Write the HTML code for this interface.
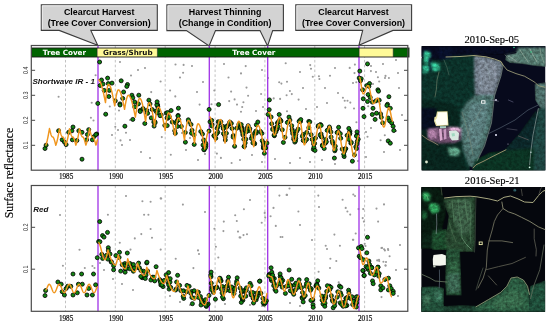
<!DOCTYPE html>
<html><head><meta charset="utf-8"><title>Surface reflectance time series</title>
<style>
html,body{margin:0;padding:0;background:#fff;}
body{width:550px;height:325px;overflow:hidden;}
svg{display:block;}
.co{font-family:"Liberation Sans",Arial,sans-serif;font-weight:bold;font-size:8.9px;fill:#000;text-anchor:middle;}
.grid{stroke:#c2c2c2;stroke-width:1.0;stroke-dasharray:2.6 2.2;}
.tick{stroke:#333;stroke-width:0.9;}
.frame{fill:none;stroke:#4a4a4a;stroke-width:1.2;}
.yt{font-family:"Liberation Sans",Arial,sans-serif;font-size:6.4px;fill:#333;text-anchor:middle;}
.xt{font-family:"Liberation Serif","Times New Roman",serif;font-size:7.2px;fill:#000;stroke:#000;stroke-width:0.15px;text-anchor:middle;}
.bw{font-family:"DejaVu Sans",Verdana,sans-serif;font-weight:bold;font-size:7.2px;fill:#fff;text-anchor:middle;}
.bk{font-family:"DejaVu Sans",Verdana,sans-serif;font-weight:bold;font-size:7.2px;fill:#111;text-anchor:middle;}
.fit{fill:none;stroke:#f0961e;stroke-width:1.45;stroke-linejoin:round;}
.gp{fill:#9a9a9a;}
.dp{fill:#118611;stroke:#050505;stroke-width:0.85;}
.brk{stroke:#a032e6;stroke-width:1.3;}
.lab{font-family:"Liberation Sans",Arial,sans-serif;font-weight:bold;font-style:italic;font-size:8.05px;fill:#111;}
.ylab{font-family:"Liberation Serif","Times New Roman",serif;font-size:11.75px;fill:#000;stroke:#000;stroke-width:0.15px;text-anchor:middle;}
.it{font-family:"Liberation Serif","Times New Roman",serif;font-size:10.6px;fill:#000;stroke:#000;stroke-width:0.12px;text-anchor:middle;}
</style></head>
<body>
<svg width="550" height="325" viewBox="0 0 550 325">
<rect width="550" height="325" fill="#fff"/>
<path d="M41.3 4.8 L157.3 4.8 L157.3 30.4 L90.8 30.4 L97.7 45.3 L59.2 30.4 L41.3 30.4 Z" fill="#d3d3d3" stroke="#3c3c3c" stroke-width="1.1" stroke-linejoin="miter"/>
<polyline points="42.3,29.4 42.3,5.8 156.3,5.8" fill="none" stroke="#f2f2f2" stroke-width="0.8"/>
<text x="99.2" y="14.9" class="co">Clearcut Harvest</text>
<text x="99.2" y="25.5" class="co">(Tree Cover Conversion)</text>
<path d="M166.9 4.8 L283.4 4.8 L283.4 30.6 L272.7 30.6 L267.6 46.0 L260.0 30.6 L215.5 30.6 L209.1 46.0 L186.4 30.6 L166.9 30.6 Z" fill="#d3d3d3" stroke="#3c3c3c" stroke-width="1.1" stroke-linejoin="miter"/>
<polyline points="167.9,29.6 167.9,5.8 282.4,5.8" fill="none" stroke="#f2f2f2" stroke-width="0.8"/>
<text x="225.1" y="14.9" class="co">Harvest Thinning</text>
<text x="225.1" y="25.5" class="co">(Change in Condition)</text>
<path d="M295.8 4.8 L411.6 4.8 L411.6 30.4 L393.0 30.4 L358.9 45.3 L362.7 30.4 L295.8 30.4 Z" fill="#d3d3d3" stroke="#3c3c3c" stroke-width="1.1" stroke-linejoin="miter"/>
<polyline points="296.8,29.4 296.8,5.8 410.6,5.8" fill="none" stroke="#f2f2f2" stroke-width="0.8"/>
<text x="353.5" y="14.9" class="co">Clearcut Harvest</text>
<text x="353.5" y="25.5" class="co">(Tree Cover Conversion)</text>
<line x1="65.5" y1="45.5" x2="65.5" y2="170.2" class="grid"/>
<line x1="115.3" y1="45.5" x2="115.3" y2="170.2" class="grid"/>
<line x1="165.2" y1="45.5" x2="165.2" y2="170.2" class="grid"/>
<line x1="215.1" y1="45.5" x2="215.1" y2="170.2" class="grid"/>
<line x1="264.9" y1="45.5" x2="264.9" y2="170.2" class="grid"/>
<line x1="314.8" y1="45.5" x2="314.8" y2="170.2" class="grid"/>
<line x1="364.6" y1="45.5" x2="364.6" y2="170.2" class="grid"/>
<line x1="31.3" y1="145.3" x2="35.1" y2="145.3" class="tick"/>
<line x1="404.0" y1="145.3" x2="407.8" y2="145.3" class="tick"/>
<line x1="31.3" y1="120.3" x2="35.1" y2="120.3" class="tick"/>
<line x1="404.0" y1="120.3" x2="407.8" y2="120.3" class="tick"/>
<line x1="31.3" y1="95.3" x2="35.1" y2="95.3" class="tick"/>
<line x1="404.0" y1="95.3" x2="407.8" y2="95.3" class="tick"/>
<line x1="31.3" y1="70.3" x2="35.1" y2="70.3" class="tick"/>
<line x1="404.0" y1="70.3" x2="407.8" y2="70.3" class="tick"/>
<circle cx="175.5" cy="64.5" r="1.05" class="gp"/>
<circle cx="183.6" cy="64.9" r="1.05" class="gp"/>
<circle cx="183.1" cy="72.7" r="1.05" class="gp"/>
<circle cx="180.0" cy="77.5" r="1.05" class="gp"/>
<circle cx="160.6" cy="81.5" r="1.05" class="gp"/>
<circle cx="151.2" cy="92.1" r="1.05" class="gp"/>
<circle cx="170.1" cy="90.5" r="1.05" class="gp"/>
<circle cx="175.3" cy="96.4" r="1.05" class="gp"/>
<circle cx="199.6" cy="104.6" r="1.05" class="gp"/>
<circle cx="245.7" cy="66.1" r="1.05" class="gp"/>
<circle cx="241.0" cy="73.4" r="1.05" class="gp"/>
<circle cx="228.5" cy="77.5" r="1.05" class="gp"/>
<circle cx="214.3" cy="90.5" r="1.05" class="gp"/>
<circle cx="231.1" cy="91.6" r="1.05" class="gp"/>
<circle cx="246.5" cy="87.6" r="1.05" class="gp"/>
<circle cx="261.1" cy="94.0" r="1.05" class="gp"/>
<circle cx="248.1" cy="95.7" r="1.05" class="gp"/>
<circle cx="229.2" cy="101.1" r="1.05" class="gp"/>
<circle cx="234.6" cy="99.4" r="1.05" class="gp"/>
<circle cx="237.0" cy="104.6" r="1.05" class="gp"/>
<circle cx="243.4" cy="102.3" r="1.05" class="gp"/>
<circle cx="242.2" cy="107.0" r="1.05" class="gp"/>
<circle cx="241.0" cy="111.7" r="1.05" class="gp"/>
<circle cx="211.5" cy="104.2" r="1.05" class="gp"/>
<circle cx="285.7" cy="63.3" r="1.05" class="gp"/>
<circle cx="310.2" cy="65.1" r="1.05" class="gp"/>
<circle cx="311.0" cy="68.8" r="1.05" class="gp"/>
<circle cx="312.8" cy="76.8" r="1.05" class="gp"/>
<circle cx="318.9" cy="76.2" r="1.05" class="gp"/>
<circle cx="319.4" cy="79.0" r="1.05" class="gp"/>
<circle cx="330.0" cy="75.8" r="1.05" class="gp"/>
<circle cx="349.7" cy="67.9" r="1.05" class="gp"/>
<circle cx="354.9" cy="64.6" r="1.05" class="gp"/>
<circle cx="354.5" cy="73.1" r="1.05" class="gp"/>
<circle cx="279.2" cy="82.3" r="1.05" class="gp"/>
<circle cx="281.4" cy="83.6" r="1.05" class="gp"/>
<circle cx="287.0" cy="81.8" r="1.05" class="gp"/>
<circle cx="289.9" cy="91.0" r="1.05" class="gp"/>
<circle cx="291.8" cy="94.1" r="1.05" class="gp"/>
<circle cx="286.6" cy="95.2" r="1.05" class="gp"/>
<circle cx="280.1" cy="98.9" r="1.05" class="gp"/>
<circle cx="273.7" cy="98.4" r="1.05" class="gp"/>
<circle cx="298.6" cy="99.6" r="1.05" class="gp"/>
<circle cx="342.9" cy="97.8" r="1.05" class="gp"/>
<circle cx="344.7" cy="100.8" r="1.05" class="gp"/>
<circle cx="347.5" cy="100.8" r="1.05" class="gp"/>
<circle cx="350.3" cy="102.6" r="1.05" class="gp"/>
<circle cx="345.3" cy="107.6" r="1.05" class="gp"/>
<circle cx="354.0" cy="108.5" r="1.05" class="gp"/>
<circle cx="353.0" cy="83.0" r="1.05" class="gp"/>
<circle cx="356.3" cy="82.3" r="1.05" class="gp"/>
<circle cx="287.0" cy="111.3" r="1.05" class="gp"/>
<circle cx="161.8" cy="137.1" r="1.05" class="gp"/>
<circle cx="170.8" cy="154.8" r="1.05" class="gp"/>
<circle cx="216.9" cy="153.6" r="1.05" class="gp"/>
<circle cx="220.9" cy="157.9" r="1.05" class="gp"/>
<circle cx="231.6" cy="163.0" r="1.05" class="gp"/>
<circle cx="58.6" cy="96.8" r="1.05" class="gp"/>
<circle cx="91.7" cy="102.7" r="1.05" class="gp"/>
<circle cx="90.9" cy="117.7" r="1.05" class="gp"/>
<circle cx="93.5" cy="120.5" r="1.05" class="gp"/>
<circle cx="95.6" cy="75.3" r="1.05" class="gp"/>
<circle cx="120.0" cy="62.0" r="1.05" class="gp"/>
<circle cx="138.0" cy="70.0" r="1.05" class="gp"/>
<circle cx="131.0" cy="75.5" r="1.05" class="gp"/>
<circle cx="145.0" cy="68.0" r="1.05" class="gp"/>
<circle cx="192.0" cy="66.0" r="1.05" class="gp"/>
<circle cx="203.0" cy="82.0" r="1.05" class="gp"/>
<circle cx="197.0" cy="92.0" r="1.05" class="gp"/>
<circle cx="224.0" cy="64.0" r="1.05" class="gp"/>
<circle cx="262.0" cy="70.0" r="1.05" class="gp"/>
<circle cx="268.0" cy="78.0" r="1.05" class="gp"/>
<circle cx="300.0" cy="72.0" r="1.05" class="gp"/>
<circle cx="303.0" cy="88.0" r="1.05" class="gp"/>
<circle cx="325.0" cy="88.0" r="1.05" class="gp"/>
<circle cx="335.0" cy="68.0" r="1.05" class="gp"/>
<circle cx="338.0" cy="93.0" r="1.05" class="gp"/>
<circle cx="327.0" cy="103.0" r="1.05" class="gp"/>
<circle cx="317.0" cy="107.0" r="1.05" class="gp"/>
<circle cx="306.0" cy="109.0" r="1.05" class="gp"/>
<circle cx="263.0" cy="107.0" r="1.05" class="gp"/>
<circle cx="256.0" cy="111.0" r="1.05" class="gp"/>
<circle cx="371.0" cy="66.0" r="1.05" class="gp"/>
<circle cx="376.0" cy="72.0" r="1.05" class="gp"/>
<circle cx="383.0" cy="64.0" r="1.05" class="gp"/>
<circle cx="385.0" cy="78.0" r="1.05" class="gp"/>
<circle cx="396.0" cy="60.0" r="1.05" class="gp"/>
<circle cx="398.0" cy="73.0" r="1.05" class="gp"/>
<circle cx="373.0" cy="84.0" r="1.05" class="gp"/>
<circle cx="370.0" cy="95.0" r="1.05" class="gp"/>
<circle cx="388.0" cy="118.0" r="1.05" class="gp"/>
<circle cx="399.0" cy="88.0" r="1.05" class="gp"/>
<circle cx="380.0" cy="104.0" r="1.05" class="gp"/>
<circle cx="402.0" cy="115.0" r="1.05" class="gp"/>
<circle cx="396.0" cy="131.0" r="1.05" class="gp"/>
<circle cx="400.0" cy="150.0" r="1.05" class="gp"/>
<circle cx="384.0" cy="152.0" r="1.05" class="gp"/>
<circle cx="366.0" cy="132.0" r="1.05" class="gp"/>
<circle cx="371.0" cy="128.0" r="1.05" class="gp"/>
<circle cx="118.0" cy="130.0" r="1.05" class="gp"/>
<circle cx="130.0" cy="140.0" r="1.05" class="gp"/>
<circle cx="141.0" cy="152.0" r="1.05" class="gp"/>
<circle cx="150.0" cy="158.0" r="1.05" class="gp"/>
<circle cx="186.0" cy="150.0" r="1.05" class="gp"/>
<circle cx="198.0" cy="160.0" r="1.05" class="gp"/>
<circle cx="205.0" cy="154.0" r="1.05" class="gp"/>
<circle cx="240.0" cy="160.0" r="1.05" class="gp"/>
<circle cx="252.0" cy="155.0" r="1.05" class="gp"/>
<circle cx="262.0" cy="162.0" r="1.05" class="gp"/>
<circle cx="275.0" cy="159.0" r="1.05" class="gp"/>
<circle cx="290.0" cy="163.0" r="1.05" class="gp"/>
<circle cx="300.0" cy="158.0" r="1.05" class="gp"/>
<circle cx="310.0" cy="162.0" r="1.05" class="gp"/>
<circle cx="322.0" cy="160.0" r="1.05" class="gp"/>
<circle cx="335.0" cy="164.0" r="1.05" class="gp"/>
<circle cx="345.0" cy="158.0" r="1.05" class="gp"/>
<circle cx="358.0" cy="161.0" r="1.05" class="gp"/>
<circle cx="366.0" cy="157.0" r="1.05" class="gp"/>
<circle cx="130.0" cy="120.0" r="1.05" class="gp"/>
<circle cx="112.0" cy="135.0" r="1.05" class="gp"/>
<circle cx="122.0" cy="145.0" r="1.05" class="gp"/>
<circle cx="182.0" cy="133.0" r="1.05" class="gp"/>
<circle cx="190.0" cy="138.0" r="1.05" class="gp"/>
<circle cx="109.8" cy="106.5" r="1.05" class="gp"/>
<circle cx="119.0" cy="110.5" r="1.05" class="gp"/>
<circle cx="115.3" cy="126.8" r="1.05" class="gp"/>
<circle cx="126.0" cy="132.7" r="1.05" class="gp"/>
<circle cx="120.5" cy="140.4" r="1.05" class="gp"/>
<circle cx="370.9" cy="71.1" r="1.05" class="gp"/>
<circle cx="377.9" cy="77.3" r="1.05" class="gp"/>
<circle cx="385.5" cy="75.9" r="1.05" class="gp"/>
<circle cx="388.9" cy="78.0" r="1.05" class="gp"/>
<circle cx="379.2" cy="81.5" r="1.05" class="gp"/>
<circle cx="368.2" cy="106.2" r="1.05" class="gp"/>
<circle cx="356.4" cy="122.2" r="1.05" class="gp"/>
<circle cx="367.5" cy="136.7" r="1.05" class="gp"/>
<circle cx="380.6" cy="140.2" r="1.05" class="gp"/>
<circle cx="384.8" cy="135.3" r="1.05" class="gp"/>
<line x1="98.0" y1="45.5" x2="98.0" y2="170.2" class="brk"/>
<line x1="209.3" y1="45.5" x2="209.3" y2="170.2" class="brk"/>
<line x1="267.7" y1="45.5" x2="267.7" y2="170.2" class="brk"/>
<line x1="359.0" y1="45.5" x2="359.0" y2="170.2" class="brk"/>
<circle cx="154.9" cy="121.8" r="2.0" class="dp"/>
<circle cx="154.1" cy="126.1" r="2.0" class="dp"/>
<circle cx="153.8" cy="122.1" r="2.0" class="dp"/>
<circle cx="155.1" cy="122.8" r="2.0" class="dp"/>
<circle cx="157.8" cy="106.9" r="2.0" class="dp"/>
<circle cx="158.2" cy="110.4" r="2.0" class="dp"/>
<circle cx="156.0" cy="111.1" r="2.0" class="dp"/>
<circle cx="157.7" cy="105.0" r="2.0" class="dp"/>
<circle cx="161.2" cy="115.1" r="2.0" class="dp"/>
<circle cx="164.8" cy="125.4" r="2.0" class="dp"/>
<circle cx="160.1" cy="115.7" r="2.0" class="dp"/>
<circle cx="157.1" cy="112.8" r="2.0" class="dp"/>
<circle cx="156.8" cy="104.8" r="2.0" class="dp"/>
<circle cx="167.7" cy="118.3" r="2.0" class="dp"/>
<circle cx="167.1" cy="117.7" r="2.0" class="dp"/>
<circle cx="167.2" cy="125.6" r="2.0" class="dp"/>
<circle cx="174.7" cy="130.8" r="2.0" class="dp"/>
<circle cx="169.4" cy="116.9" r="2.0" class="dp"/>
<circle cx="166.2" cy="113.1" r="2.0" class="dp"/>
<circle cx="167.6" cy="112.6" r="2.0" class="dp"/>
<circle cx="172.2" cy="122.0" r="2.0" class="dp"/>
<circle cx="171.1" cy="110.5" r="2.0" class="dp"/>
<circle cx="178.1" cy="115.4" r="2.0" class="dp"/>
<circle cx="175.9" cy="122.9" r="2.0" class="dp"/>
<circle cx="177.4" cy="126.4" r="2.0" class="dp"/>
<circle cx="181.3" cy="126.4" r="2.0" class="dp"/>
<circle cx="178.0" cy="116.1" r="2.0" class="dp"/>
<circle cx="175.3" cy="133.3" r="2.0" class="dp"/>
<circle cx="177.9" cy="119.8" r="2.0" class="dp"/>
<circle cx="176.9" cy="121.3" r="2.0" class="dp"/>
<circle cx="178.8" cy="119.8" r="2.0" class="dp"/>
<circle cx="188.8" cy="121.4" r="2.0" class="dp"/>
<circle cx="194.0" cy="135.0" r="2.0" class="dp"/>
<circle cx="192.0" cy="130.3" r="2.0" class="dp"/>
<circle cx="191.0" cy="124.5" r="2.0" class="dp"/>
<circle cx="185.3" cy="132.5" r="2.0" class="dp"/>
<circle cx="194.2" cy="144.4" r="2.0" class="dp"/>
<circle cx="185.4" cy="142.2" r="2.0" class="dp"/>
<circle cx="191.5" cy="133.2" r="2.0" class="dp"/>
<circle cx="188.3" cy="119.8" r="2.0" class="dp"/>
<circle cx="205.1" cy="142.3" r="2.0" class="dp"/>
<circle cx="202.5" cy="134.1" r="2.0" class="dp"/>
<circle cx="204.1" cy="145.9" r="2.0" class="dp"/>
<circle cx="203.0" cy="145.1" r="2.0" class="dp"/>
<circle cx="204.2" cy="149.8" r="2.0" class="dp"/>
<circle cx="204.1" cy="140.9" r="2.0" class="dp"/>
<circle cx="203.8" cy="149.5" r="2.0" class="dp"/>
<circle cx="203.7" cy="140.0" r="2.0" class="dp"/>
<circle cx="200.8" cy="131.5" r="2.0" class="dp"/>
<circle cx="205.9" cy="144.0" r="2.0" class="dp"/>
<circle cx="209.0" cy="131.0" r="2.0" class="dp"/>
<circle cx="205.9" cy="146.1" r="2.0" class="dp"/>
<circle cx="205.4" cy="147.9" r="2.0" class="dp"/>
<circle cx="212.0" cy="124.5" r="2.0" class="dp"/>
<circle cx="210.0" cy="121.8" r="2.0" class="dp"/>
<circle cx="211.8" cy="125.9" r="2.0" class="dp"/>
<circle cx="214.1" cy="135.6" r="2.0" class="dp"/>
<circle cx="214.0" cy="135.7" r="2.0" class="dp"/>
<circle cx="211.7" cy="120.4" r="2.0" class="dp"/>
<circle cx="223.1" cy="126.4" r="2.0" class="dp"/>
<circle cx="224.2" cy="134.6" r="2.0" class="dp"/>
<circle cx="220.9" cy="121.9" r="2.0" class="dp"/>
<circle cx="218.2" cy="121.8" r="2.0" class="dp"/>
<circle cx="223.4" cy="128.7" r="2.0" class="dp"/>
<circle cx="223.5" cy="133.5" r="2.0" class="dp"/>
<circle cx="217.8" cy="132.2" r="2.0" class="dp"/>
<circle cx="216.7" cy="133.7" r="2.0" class="dp"/>
<circle cx="217.2" cy="128.3" r="2.0" class="dp"/>
<circle cx="219.2" cy="123.0" r="2.0" class="dp"/>
<circle cx="218.2" cy="126.2" r="2.0" class="dp"/>
<circle cx="223.4" cy="128.3" r="2.0" class="dp"/>
<circle cx="215.8" cy="138.2" r="2.0" class="dp"/>
<circle cx="225.3" cy="140.0" r="2.0" class="dp"/>
<circle cx="232.1" cy="128.5" r="2.0" class="dp"/>
<circle cx="230.7" cy="123.8" r="2.0" class="dp"/>
<circle cx="225.2" cy="137.0" r="2.0" class="dp"/>
<circle cx="226.4" cy="133.3" r="2.0" class="dp"/>
<circle cx="233.3" cy="135.6" r="2.0" class="dp"/>
<circle cx="227.4" cy="125.7" r="2.0" class="dp"/>
<circle cx="231.3" cy="123.4" r="2.0" class="dp"/>
<circle cx="229.5" cy="123.1" r="2.0" class="dp"/>
<circle cx="233.1" cy="137.1" r="2.0" class="dp"/>
<circle cx="234.6" cy="146.3" r="2.0" class="dp"/>
<circle cx="229.8" cy="122.1" r="2.0" class="dp"/>
<circle cx="226.8" cy="126.7" r="2.0" class="dp"/>
<circle cx="242.1" cy="131.0" r="2.0" class="dp"/>
<circle cx="236.8" cy="128.2" r="2.0" class="dp"/>
<circle cx="241.9" cy="127.8" r="2.0" class="dp"/>
<circle cx="240.2" cy="126.6" r="2.0" class="dp"/>
<circle cx="238.9" cy="124.3" r="2.0" class="dp"/>
<circle cx="242.9" cy="134.9" r="2.0" class="dp"/>
<circle cx="244.3" cy="146.2" r="2.0" class="dp"/>
<circle cx="242.2" cy="129.6" r="2.0" class="dp"/>
<circle cx="241.2" cy="124.6" r="2.0" class="dp"/>
<circle cx="244.1" cy="146.5" r="2.0" class="dp"/>
<circle cx="243.8" cy="139.3" r="2.0" class="dp"/>
<circle cx="242.9" cy="133.3" r="2.0" class="dp"/>
<circle cx="241.5" cy="129.0" r="2.0" class="dp"/>
<circle cx="247.0" cy="128.1" r="2.0" class="dp"/>
<circle cx="251.4" cy="138.4" r="2.0" class="dp"/>
<circle cx="252.1" cy="135.9" r="2.0" class="dp"/>
<circle cx="254.7" cy="133.1" r="2.0" class="dp"/>
<circle cx="254.7" cy="143.8" r="2.0" class="dp"/>
<circle cx="248.2" cy="125.7" r="2.0" class="dp"/>
<circle cx="254.0" cy="142.7" r="2.0" class="dp"/>
<circle cx="245.8" cy="139.2" r="2.0" class="dp"/>
<circle cx="249.4" cy="130.6" r="2.0" class="dp"/>
<circle cx="249.8" cy="128.8" r="2.0" class="dp"/>
<circle cx="245.2" cy="142.9" r="2.0" class="dp"/>
<circle cx="252.9" cy="142.9" r="2.0" class="dp"/>
<circle cx="246.7" cy="131.6" r="2.0" class="dp"/>
<circle cx="256.3" cy="124.8" r="2.0" class="dp"/>
<circle cx="256.4" cy="133.0" r="2.0" class="dp"/>
<circle cx="263.3" cy="145.7" r="2.0" class="dp"/>
<circle cx="261.8" cy="133.4" r="2.0" class="dp"/>
<circle cx="264.4" cy="153.3" r="2.0" class="dp"/>
<circle cx="255.8" cy="131.2" r="2.0" class="dp"/>
<circle cx="257.8" cy="122.0" r="2.0" class="dp"/>
<circle cx="262.2" cy="140.7" r="2.0" class="dp"/>
<circle cx="263.3" cy="148.0" r="2.0" class="dp"/>
<circle cx="260.5" cy="131.5" r="2.0" class="dp"/>
<circle cx="263.4" cy="143.0" r="2.0" class="dp"/>
<circle cx="263.9" cy="147.7" r="2.0" class="dp"/>
<circle cx="264.6" cy="145.9" r="2.0" class="dp"/>
<circle cx="266.9" cy="143.1" r="2.0" class="dp"/>
<circle cx="265.2" cy="148.0" r="2.0" class="dp"/>
<circle cx="265.6" cy="147.9" r="2.0" class="dp"/>
<circle cx="274.4" cy="135.7" r="2.0" class="dp"/>
<circle cx="274.1" cy="135.1" r="2.0" class="dp"/>
<circle cx="269.2" cy="109.7" r="2.0" class="dp"/>
<circle cx="273.0" cy="128.4" r="2.0" class="dp"/>
<circle cx="268.1" cy="114.4" r="2.0" class="dp"/>
<circle cx="271.1" cy="117.0" r="2.0" class="dp"/>
<circle cx="272.7" cy="129.5" r="2.0" class="dp"/>
<circle cx="271.7" cy="123.8" r="2.0" class="dp"/>
<circle cx="281.0" cy="121.0" r="2.0" class="dp"/>
<circle cx="275.9" cy="131.8" r="2.0" class="dp"/>
<circle cx="280.0" cy="119.6" r="2.0" class="dp"/>
<circle cx="277.4" cy="123.0" r="2.0" class="dp"/>
<circle cx="279.2" cy="114.5" r="2.0" class="dp"/>
<circle cx="278.6" cy="121.6" r="2.0" class="dp"/>
<circle cx="276.5" cy="127.3" r="2.0" class="dp"/>
<circle cx="276.9" cy="129.3" r="2.0" class="dp"/>
<circle cx="280.2" cy="121.6" r="2.0" class="dp"/>
<circle cx="283.4" cy="142.4" r="2.0" class="dp"/>
<circle cx="277.2" cy="128.6" r="2.0" class="dp"/>
<circle cx="282.3" cy="129.8" r="2.0" class="dp"/>
<circle cx="278.0" cy="126.4" r="2.0" class="dp"/>
<circle cx="288.0" cy="122.2" r="2.0" class="dp"/>
<circle cx="294.8" cy="142.1" r="2.0" class="dp"/>
<circle cx="293.7" cy="139.2" r="2.0" class="dp"/>
<circle cx="292.1" cy="129.4" r="2.0" class="dp"/>
<circle cx="287.4" cy="122.5" r="2.0" class="dp"/>
<circle cx="289.0" cy="117.1" r="2.0" class="dp"/>
<circle cx="292.7" cy="133.6" r="2.0" class="dp"/>
<circle cx="291.7" cy="125.8" r="2.0" class="dp"/>
<circle cx="285.0" cy="137.3" r="2.0" class="dp"/>
<circle cx="293.9" cy="137.2" r="2.0" class="dp"/>
<circle cx="294.5" cy="139.0" r="2.0" class="dp"/>
<circle cx="292.4" cy="131.1" r="2.0" class="dp"/>
<circle cx="289.9" cy="120.1" r="2.0" class="dp"/>
<circle cx="295.5" cy="140.9" r="2.0" class="dp"/>
<circle cx="295.9" cy="134.4" r="2.0" class="dp"/>
<circle cx="299.9" cy="120.6" r="2.0" class="dp"/>
<circle cx="300.5" cy="121.5" r="2.0" class="dp"/>
<circle cx="296.8" cy="131.2" r="2.0" class="dp"/>
<circle cx="303.2" cy="134.4" r="2.0" class="dp"/>
<circle cx="295.8" cy="138.6" r="2.0" class="dp"/>
<circle cx="295.4" cy="136.6" r="2.0" class="dp"/>
<circle cx="302.4" cy="136.3" r="2.0" class="dp"/>
<circle cx="298.1" cy="129.1" r="2.0" class="dp"/>
<circle cx="299.1" cy="121.4" r="2.0" class="dp"/>
<circle cx="300.8" cy="119.6" r="2.0" class="dp"/>
<circle cx="303.2" cy="140.5" r="2.0" class="dp"/>
<circle cx="306.6" cy="139.4" r="2.0" class="dp"/>
<circle cx="308.8" cy="121.4" r="2.0" class="dp"/>
<circle cx="306.7" cy="132.4" r="2.0" class="dp"/>
<circle cx="304.9" cy="141.4" r="2.0" class="dp"/>
<circle cx="313.7" cy="144.2" r="2.0" class="dp"/>
<circle cx="313.4" cy="149.4" r="2.0" class="dp"/>
<circle cx="311.1" cy="134.7" r="2.0" class="dp"/>
<circle cx="309.8" cy="121.9" r="2.0" class="dp"/>
<circle cx="314.6" cy="143.4" r="2.0" class="dp"/>
<circle cx="313.9" cy="147.5" r="2.0" class="dp"/>
<circle cx="312.2" cy="139.4" r="2.0" class="dp"/>
<circle cx="308.8" cy="127.7" r="2.0" class="dp"/>
<circle cx="313.7" cy="142.4" r="2.0" class="dp"/>
<circle cx="322.4" cy="145.1" r="2.0" class="dp"/>
<circle cx="322.4" cy="145.8" r="2.0" class="dp"/>
<circle cx="315.5" cy="138.1" r="2.0" class="dp"/>
<circle cx="318.2" cy="126.6" r="2.0" class="dp"/>
<circle cx="318.3" cy="125.7" r="2.0" class="dp"/>
<circle cx="321.1" cy="134.0" r="2.0" class="dp"/>
<circle cx="324.2" cy="148.5" r="2.0" class="dp"/>
<circle cx="321.4" cy="136.8" r="2.0" class="dp"/>
<circle cx="320.4" cy="124.5" r="2.0" class="dp"/>
<circle cx="320.1" cy="135.1" r="2.0" class="dp"/>
<circle cx="321.2" cy="125.4" r="2.0" class="dp"/>
<circle cx="321.7" cy="136.9" r="2.0" class="dp"/>
<circle cx="315.0" cy="150.4" r="2.0" class="dp"/>
<circle cx="330.9" cy="131.9" r="2.0" class="dp"/>
<circle cx="328.7" cy="129.2" r="2.0" class="dp"/>
<circle cx="325.2" cy="143.3" r="2.0" class="dp"/>
<circle cx="325.7" cy="139.4" r="2.0" class="dp"/>
<circle cx="327.2" cy="130.4" r="2.0" class="dp"/>
<circle cx="329.8" cy="128.7" r="2.0" class="dp"/>
<circle cx="334.4" cy="158.1" r="2.0" class="dp"/>
<circle cx="331.1" cy="137.1" r="2.0" class="dp"/>
<circle cx="332.8" cy="143.2" r="2.0" class="dp"/>
<circle cx="332.3" cy="141.3" r="2.0" class="dp"/>
<circle cx="325.2" cy="143.0" r="2.0" class="dp"/>
<circle cx="329.4" cy="127.0" r="2.0" class="dp"/>
<circle cx="326.4" cy="141.8" r="2.0" class="dp"/>
<circle cx="335.3" cy="146.2" r="2.0" class="dp"/>
<circle cx="344.1" cy="156.5" r="2.0" class="dp"/>
<circle cx="340.7" cy="138.3" r="2.0" class="dp"/>
<circle cx="338.3" cy="131.7" r="2.0" class="dp"/>
<circle cx="340.3" cy="133.7" r="2.0" class="dp"/>
<circle cx="337.5" cy="132.8" r="2.0" class="dp"/>
<circle cx="334.8" cy="150.8" r="2.0" class="dp"/>
<circle cx="337.1" cy="132.5" r="2.0" class="dp"/>
<circle cx="342.2" cy="149.1" r="2.0" class="dp"/>
<circle cx="338.6" cy="127.3" r="2.0" class="dp"/>
<circle cx="335.2" cy="149.5" r="2.0" class="dp"/>
<circle cx="344.5" cy="151.3" r="2.0" class="dp"/>
<circle cx="343.7" cy="154.2" r="2.0" class="dp"/>
<circle cx="348.9" cy="139.5" r="2.0" class="dp"/>
<circle cx="347.1" cy="135.4" r="2.0" class="dp"/>
<circle cx="349.9" cy="131.2" r="2.0" class="dp"/>
<circle cx="349.3" cy="134.7" r="2.0" class="dp"/>
<circle cx="354.4" cy="154.9" r="2.0" class="dp"/>
<circle cx="345.8" cy="148.7" r="2.0" class="dp"/>
<circle cx="350.9" cy="143.2" r="2.0" class="dp"/>
<circle cx="345.2" cy="148.9" r="2.0" class="dp"/>
<circle cx="349.9" cy="133.4" r="2.0" class="dp"/>
<circle cx="351.3" cy="142.4" r="2.0" class="dp"/>
<circle cx="349.2" cy="133.0" r="2.0" class="dp"/>
<circle cx="348.8" cy="128.4" r="2.0" class="dp"/>
<circle cx="352.4" cy="161.2" r="2.0" class="dp"/>
<circle cx="357.0" cy="143.9" r="2.0" class="dp"/>
<circle cx="355.8" cy="146.8" r="2.0" class="dp"/>
<circle cx="358.2" cy="139.2" r="2.0" class="dp"/>
<circle cx="357.3" cy="141.4" r="2.0" class="dp"/>
<circle cx="356.5" cy="148.6" r="2.0" class="dp"/>
<circle cx="357.1" cy="135.3" r="2.0" class="dp"/>
<circle cx="157.1" cy="101.8" r="2.0" class="dp"/>
<circle cx="178.4" cy="108.2" r="2.0" class="dp"/>
<circle cx="209.1" cy="109.4" r="2.0" class="dp"/>
<circle cx="218.6" cy="104.6" r="2.0" class="dp"/>
<circle cx="269.4" cy="99.9" r="2.0" class="dp"/>
<circle cx="45.0" cy="148.5" r="2.0" class="dp"/>
<circle cx="46.1" cy="145.2" r="2.0" class="dp"/>
<circle cx="58.6" cy="130.8" r="2.0" class="dp"/>
<circle cx="62.2" cy="139.8" r="2.0" class="dp"/>
<circle cx="64.4" cy="142.0" r="2.0" class="dp"/>
<circle cx="66.1" cy="144.6" r="2.0" class="dp"/>
<circle cx="68.7" cy="132.3" r="2.0" class="dp"/>
<circle cx="73.0" cy="127.0" r="2.0" class="dp"/>
<circle cx="71.9" cy="130.8" r="2.0" class="dp"/>
<circle cx="72.4" cy="139.8" r="2.0" class="dp"/>
<circle cx="76.9" cy="140.5" r="2.0" class="dp"/>
<circle cx="78.8" cy="130.8" r="2.0" class="dp"/>
<circle cx="82.0" cy="132.3" r="2.0" class="dp"/>
<circle cx="82.0" cy="159.2" r="2.0" class="dp"/>
<circle cx="86.6" cy="139.8" r="2.0" class="dp"/>
<circle cx="88.7" cy="129.7" r="2.0" class="dp"/>
<circle cx="87.4" cy="134.5" r="2.0" class="dp"/>
<circle cx="92.4" cy="139.8" r="2.0" class="dp"/>
<circle cx="94.1" cy="136.6" r="2.0" class="dp"/>
<circle cx="96.7" cy="134.0" r="2.0" class="dp"/>
<circle cx="95.9" cy="134.5" r="2.0" class="dp"/>
<circle cx="99.6" cy="62.0" r="2.0" class="dp"/>
<circle cx="107.6" cy="78.1" r="2.0" class="dp"/>
<circle cx="108.3" cy="83.6" r="2.0" class="dp"/>
<circle cx="112.0" cy="83.1" r="2.0" class="dp"/>
<circle cx="100.2" cy="85.5" r="2.0" class="dp"/>
<circle cx="104.2" cy="90.4" r="2.0" class="dp"/>
<circle cx="109.4" cy="90.4" r="2.0" class="dp"/>
<circle cx="108.8" cy="96.5" r="2.0" class="dp"/>
<circle cx="115.3" cy="100.8" r="2.0" class="dp"/>
<circle cx="121.2" cy="80.8" r="2.0" class="dp"/>
<circle cx="127.5" cy="84.5" r="2.0" class="dp"/>
<circle cx="126.8" cy="86.4" r="2.0" class="dp"/>
<circle cx="123.6" cy="92.0" r="2.0" class="dp"/>
<circle cx="122.7" cy="98.4" r="2.0" class="dp"/>
<circle cx="119.9" cy="103.9" r="2.0" class="dp"/>
<circle cx="131.9" cy="95.2" r="2.0" class="dp"/>
<circle cx="132.8" cy="97.8" r="2.0" class="dp"/>
<circle cx="138.8" cy="95.2" r="2.0" class="dp"/>
<circle cx="134.7" cy="102.0" r="2.0" class="dp"/>
<circle cx="138.4" cy="103.9" r="2.0" class="dp"/>
<circle cx="148.9" cy="100.2" r="2.0" class="dp"/>
<circle cx="150.0" cy="103.9" r="2.0" class="dp"/>
<circle cx="143.0" cy="108.5" r="2.0" class="dp"/>
<circle cx="140.2" cy="110.4" r="2.0" class="dp"/>
<circle cx="146.7" cy="110.4" r="2.0" class="dp"/>
<circle cx="152.2" cy="109.5" r="2.0" class="dp"/>
<circle cx="97.8" cy="103.4" r="2.0" class="dp"/>
<circle cx="105.7" cy="114.2" r="2.0" class="dp"/>
<circle cx="124.9" cy="126.2" r="2.0" class="dp"/>
<circle cx="132.8" cy="119.4" r="2.0" class="dp"/>
<circle cx="144.8" cy="123.5" r="2.0" class="dp"/>
<circle cx="140.2" cy="111.5" r="2.0" class="dp"/>
<circle cx="134.7" cy="106.8" r="2.0" class="dp"/>
<circle cx="151.3" cy="117.9" r="2.0" class="dp"/>
<circle cx="147.6" cy="113.3" r="2.0" class="dp"/>
<circle cx="120.0" cy="105.0" r="2.0" class="dp"/>
<circle cx="101.5" cy="80.0" r="2.0" class="dp"/>
<circle cx="103.0" cy="84.0" r="2.0" class="dp"/>
<circle cx="367.5" cy="63.9" r="2.0" class="dp"/>
<circle cx="359.8" cy="71.1" r="2.0" class="dp"/>
<circle cx="359.2" cy="78.0" r="2.0" class="dp"/>
<circle cx="361.2" cy="78.7" r="2.0" class="dp"/>
<circle cx="360.5" cy="80.8" r="2.0" class="dp"/>
<circle cx="366.8" cy="85.6" r="2.0" class="dp"/>
<circle cx="369.5" cy="83.5" r="2.0" class="dp"/>
<circle cx="368.9" cy="86.3" r="2.0" class="dp"/>
<circle cx="362.6" cy="89.8" r="2.0" class="dp"/>
<circle cx="377.9" cy="89.8" r="2.0" class="dp"/>
<circle cx="378.5" cy="91.2" r="2.0" class="dp"/>
<circle cx="368.2" cy="94.6" r="2.0" class="dp"/>
<circle cx="370.2" cy="97.4" r="2.0" class="dp"/>
<circle cx="363.3" cy="98.8" r="2.0" class="dp"/>
<circle cx="388.9" cy="96.7" r="2.0" class="dp"/>
<circle cx="379.2" cy="100.2" r="2.0" class="dp"/>
<circle cx="375.8" cy="100.9" r="2.0" class="dp"/>
<circle cx="367.5" cy="101.5" r="2.0" class="dp"/>
<circle cx="387.5" cy="104.3" r="2.0" class="dp"/>
<circle cx="363.0" cy="108.3" r="2.0" class="dp"/>
<circle cx="364.0" cy="116.6" r="2.0" class="dp"/>
<circle cx="372.3" cy="102.1" r="2.0" class="dp"/>
<circle cx="373.0" cy="108.3" r="2.0" class="dp"/>
<circle cx="372.3" cy="114.5" r="2.0" class="dp"/>
<circle cx="375.1" cy="119.4" r="2.0" class="dp"/>
<circle cx="376.5" cy="113.2" r="2.0" class="dp"/>
<circle cx="380.6" cy="113.9" r="2.0" class="dp"/>
<circle cx="381.3" cy="117.3" r="2.0" class="dp"/>
<circle cx="382.7" cy="122.9" r="2.0" class="dp"/>
<circle cx="386.9" cy="105.5" r="2.0" class="dp"/>
<circle cx="390.3" cy="108.3" r="2.0" class="dp"/>
<circle cx="388.2" cy="118.0" r="2.0" class="dp"/>
<circle cx="389.6" cy="120.8" r="2.0" class="dp"/>
<circle cx="391.7" cy="122.9" r="2.0" class="dp"/>
<circle cx="393.1" cy="126.3" r="2.0" class="dp"/>
<circle cx="393.8" cy="130.5" r="2.0" class="dp"/>
<circle cx="388.2" cy="140.9" r="2.0" class="dp"/>
<circle cx="390.3" cy="143.2" r="2.0" class="dp"/>
<circle cx="357.0" cy="131.9" r="2.0" class="dp"/>
<circle cx="356.4" cy="136.0" r="2.0" class="dp"/>
<path d="M45.36 145.30 L45.49 145.30 L45.63 145.30 L45.76 145.30 L45.93 144.90 L46.10 144.45 L46.26 143.97 L46.43 143.44 L46.60 142.87 L46.77 142.26 L46.94 141.61 L47.11 140.93 L47.28 140.21 L47.44 139.45 L47.61 138.67 L47.78 137.85 L47.95 137.00 L48.12 136.13 L48.29 135.24 L48.46 134.32 L48.62 133.39 L48.79 132.45 L48.96 131.49 L49.13 130.52 L49.30 129.55 L49.47 128.57 L49.64 129.30 L49.81 130.02 L49.98 130.73 L50.16 131.43 L50.33 132.10 L50.50 132.75 L50.67 133.36 L50.85 133.94 L51.02 134.48 L51.19 134.97 L51.36 135.41 L51.54 135.81 L51.71 136.14 L51.88 136.42 L52.06 136.64 L52.23 136.80 L52.40 136.89 L52.57 136.93 L52.74 136.95 L52.91 137.04 L53.08 137.18 L53.25 137.38 L53.42 137.63 L53.59 137.93 L53.75 138.28 L53.92 138.68 L54.09 139.13 L54.26 139.61 L54.43 140.14 L54.60 140.70 L54.77 141.29 L54.94 141.91 L55.10 142.55 L55.27 143.21 L55.44 143.88 L55.61 144.56 L55.78 145.25 L55.95 144.85 L56.12 144.41 L56.28 143.93 L56.45 143.40 L56.62 142.84 L56.79 142.23 L56.96 141.59 L57.13 140.91 L57.30 140.19 L57.46 139.44 L57.63 138.66 L57.80 137.84 L57.97 137.00 L58.14 136.14 L58.31 135.25 L58.48 134.34 L58.64 133.41 L58.81 132.47 L58.98 131.52 L59.15 130.56 L59.32 129.59 L59.49 128.62 L59.66 129.34 L59.83 130.06 L60.00 130.77 L60.18 131.46 L60.35 132.13 L60.52 132.77 L60.69 133.38 L60.87 133.96 L61.04 134.49 L61.21 134.98 L61.38 135.42 L61.56 135.81 L61.73 136.15 L61.90 136.42 L62.08 136.64 L62.25 136.80 L62.42 136.89 L62.59 136.93 L62.76 136.95 L62.93 137.04 L63.10 137.18 L63.27 137.37 L63.44 137.62 L63.61 137.92 L63.77 138.27 L63.94 138.67 L64.11 139.11 L64.28 139.60 L64.45 140.12 L64.62 140.68 L64.79 141.26 L64.96 141.88 L65.12 142.52 L65.29 143.17 L65.46 143.84 L65.63 144.52 L65.80 145.20 L65.97 144.81 L66.14 144.37 L66.30 143.89 L66.47 143.37 L66.64 142.80 L66.81 142.20 L66.98 141.56 L67.15 140.88 L67.32 140.17 L67.48 139.42 L67.65 138.65 L67.82 137.84 L67.99 137.00 L68.16 136.14 L68.33 135.26 L68.50 134.35 L68.66 133.43 L68.83 132.50 L69.00 131.55 L69.17 130.59 L69.34 129.63 L69.51 128.66 L69.68 129.38 L69.85 130.10 L70.02 130.80 L70.20 131.49 L70.37 132.15 L70.54 132.79 L70.71 133.40 L70.89 133.97 L71.06 134.51 L71.23 134.99 L71.40 135.43 L71.58 135.82 L71.75 136.15 L71.92 136.43 L72.09 136.64 L72.27 136.80 L72.44 136.89 L72.61 136.93 L72.78 136.95 L72.95 137.04 L73.12 137.18 L73.29 137.37 L73.46 137.62 L73.63 137.92 L73.79 138.27 L73.96 138.66 L74.13 139.10 L74.30 139.58 L74.47 140.10 L74.64 140.65 L74.81 141.24 L74.98 141.85 L75.14 142.48 L75.31 143.14 L75.48 143.80 L75.65 144.48 L75.82 145.16 L75.99 144.76 L76.16 144.33 L76.32 143.85 L76.49 143.33 L76.66 142.77 L76.83 142.17 L77.00 141.53 L77.17 140.86 L77.34 140.15 L77.50 139.41 L77.67 138.64 L77.84 137.83 L78.01 137.00 L78.18 136.15 L78.35 135.27 L78.52 134.37 L78.68 133.45 L78.85 132.52 L79.02 131.58 L79.19 130.63 L79.36 129.67 L79.53 128.71 L79.70 129.43 L79.87 130.14 L80.04 130.84 L80.22 131.52 L80.39 132.18 L80.56 132.82 L80.73 133.42 L80.91 133.99 L81.08 134.52 L81.25 135.00 L81.42 135.44 L81.60 135.82 L81.77 136.16 L81.94 136.43 L82.11 136.65 L82.29 136.80 L82.46 136.89 L82.63 136.93 L82.80 136.95 L82.97 137.04 L83.14 137.18 L83.31 137.37 L83.48 137.61 L83.64 137.91 L83.81 138.26 L83.98 138.65 L84.15 139.09 L84.32 139.57 L84.49 140.08 L84.66 140.63 L84.83 141.21 L85.00 141.82 L85.16 142.45 L85.33 143.10 L85.50 143.76 L85.67 144.43 L85.84 145.11 L86.01 144.72 L86.18 144.28 L86.34 143.81 L86.51 143.29 L86.68 142.74 L86.85 142.14 L87.02 141.51 L87.19 140.84 L87.36 140.13 L87.52 139.40 L87.69 138.63 L87.86 137.83 L88.03 137.00 L88.20 136.15 L88.37 135.28 L88.54 134.38 L88.70 133.47 L88.87 132.55 L89.04 131.61 L89.21 130.66 L89.38 129.71 L89.55 128.76 L89.72 129.47 L89.89 130.18 L90.06 130.87 L90.24 131.55 L90.41 132.21 L90.58 132.84 L90.75 133.44 L90.93 134.01 L91.10 134.53 L91.27 135.01 L91.44 135.45 L91.62 135.83 L91.79 136.16 L91.96 136.43 L92.13 136.65 L92.31 136.80 L92.48 136.89 L92.65 136.93 L92.82 136.95 L92.99 137.04 L93.16 137.17 L93.33 137.37 L93.50 137.61 L93.66 137.91 L93.83 138.25 L94.00 138.64 L94.17 139.08 L94.34 139.55 L94.51 140.06 L94.68 140.61 L94.85 141.19 L95.01 141.79 L95.18 142.42 L95.35 143.06 L95.52 143.72 L95.69 144.39 L95.86 145.06 L96.04 144.95 L96.21 144.60 L96.39 144.07 L96.57 143.38 L96.74 142.59 L96.92 141.77 L97.10 140.98 L97.27 140.29 L97.45 139.76 L97.63 139.42 L97.80 139.30 M98.20 79.80 L98.37 79.82 L98.54 79.86 L98.71 79.94 L98.88 80.04 L99.05 80.18 L99.22 80.35 L99.39 80.54 L99.56 80.77 L99.72 81.02 L99.89 81.30 L100.06 81.61 L100.23 81.95 L100.40 82.32 L100.57 82.72 L100.74 83.14 L100.91 83.58 L101.08 84.05 L101.25 84.55 L101.42 85.07 L101.59 85.62 L101.76 86.18 L101.93 86.77 L102.09 87.38 L102.26 88.01 L102.43 88.66 L102.60 89.33 L102.77 90.01 L102.94 90.72 L103.11 91.43 L103.28 92.17 L103.45 92.91 L103.62 93.67 L103.79 94.45 L103.96 95.23 L104.13 96.02 L104.29 96.82 L104.46 97.63 L104.63 98.45 L104.80 99.27 L104.97 100.09 L105.14 100.92 L105.31 101.75 L105.48 102.58 L105.66 100.90 L105.83 99.24 L106.01 97.60 L106.18 96.00 L106.36 94.46 L106.54 92.99 L106.71 91.60 L106.89 90.30 L107.06 89.11 L107.24 88.04 L107.42 87.09 L107.59 86.27 L107.77 85.59 L107.94 85.05 L108.12 84.67 L108.29 84.43 L108.47 84.35 L108.64 84.37 L108.80 84.43 L108.97 84.53 L109.14 84.66 L109.31 84.84 L109.47 85.05 L109.64 85.30 L109.81 85.58 L109.97 85.90 L110.14 86.26 L110.31 86.65 L110.48 87.08 L110.64 87.54 L110.81 88.03 L110.98 88.56 L111.14 89.12 L111.31 89.70 L111.48 90.32 L111.64 90.96 L111.81 91.63 L111.98 92.33 L112.15 93.05 L112.31 93.79 L112.48 94.56 L112.65 95.34 L112.81 96.15 L112.98 96.97 L113.15 97.80 L113.32 98.66 L113.48 99.52 L113.65 100.40 L113.82 101.28 L113.98 102.18 L114.15 103.08 L114.32 103.98 L114.49 104.89 L114.65 105.80 L114.82 104.66 L115.00 103.53 L115.17 102.41 L115.34 101.31 L115.51 100.23 L115.69 99.18 L115.86 98.16 L116.03 97.18 L116.20 96.24 L116.37 95.36 L116.55 94.53 L116.72 93.75 L116.89 93.04 L117.06 92.39 L117.24 91.81 L117.41 91.30 L117.58 90.86 L117.75 90.50 L117.92 90.22 L118.10 90.02 L118.27 89.90 L118.44 89.85 L118.61 89.87 L118.78 89.93 L118.95 90.02 L119.12 90.15 L119.29 90.32 L119.45 90.52 L119.62 90.75 L119.79 91.03 L119.96 91.34 L120.13 91.68 L120.30 92.05 L120.47 92.46 L120.64 92.90 L120.81 93.37 L120.97 93.87 L121.14 94.40 L121.31 94.96 L121.48 95.55 L121.65 96.16 L121.82 96.80 L121.99 97.46 L122.16 98.15 L122.33 98.85 L122.50 99.58 L122.66 100.32 L122.83 101.08 L123.00 101.86 L123.17 102.65 L123.34 103.45 L123.51 104.27 L123.68 105.09 L123.85 105.92 L124.02 106.76 L124.18 107.61 L124.35 108.45 L124.52 109.30 L124.69 108.30 L124.87 107.31 L125.04 106.32 L125.21 105.36 L125.38 104.41 L125.56 103.48 L125.73 102.59 L125.90 101.73 L126.07 100.91 L126.24 100.13 L126.42 99.40 L126.59 98.72 L126.76 98.09 L126.93 97.52 L127.11 97.01 L127.28 96.57 L127.45 96.18 L127.62 95.87 L127.79 95.62 L127.97 95.44 L128.14 95.34 L128.31 95.30 L128.48 95.32 L128.65 95.36 L128.82 95.44 L128.99 95.54 L129.15 95.68 L129.32 95.85 L129.49 96.04 L129.66 96.27 L129.83 96.52 L130.00 96.81 L130.16 97.12 L130.33 97.46 L130.50 97.83 L130.67 98.22 L130.84 98.64 L131.01 99.09 L131.18 99.56 L131.34 100.05 L131.51 100.57 L131.68 101.12 L131.85 101.68 L132.02 102.27 L132.19 102.88 L132.36 103.51 L132.52 104.15 L132.69 104.82 L132.86 105.50 L133.03 106.20 L133.20 106.91 L133.37 107.64 L133.54 108.38 L133.70 109.13 L133.87 109.89 L134.04 110.67 L134.21 111.45 L134.38 112.24 L134.55 113.04 L134.72 113.84 L134.88 114.65 L135.05 115.46 L135.22 116.28 L135.39 117.09 L135.56 115.96 L135.73 114.84 L135.90 113.73 L136.06 112.62 L136.23 111.54 L136.40 110.47 L136.57 109.43 L136.74 108.41 L136.91 107.43 L137.08 106.48 L137.25 105.57 L137.41 104.71 L137.58 103.89 L137.75 103.11 L137.92 102.39 L138.09 101.72 L138.26 101.11 L138.43 100.55 L138.60 100.06 L138.76 99.63 L138.93 99.26 L139.10 98.96 L139.27 98.72 L139.44 98.55 L139.61 98.45 L139.78 98.41 L139.95 98.44 L140.12 98.51 L140.29 98.64 L140.46 98.81 L140.63 99.03 L140.80 99.29 L140.97 99.61 L141.14 99.97 L141.31 100.38 L141.48 100.83 L141.65 101.33 L141.82 101.87 L141.99 102.45 L142.16 103.07 L142.33 103.73 L142.50 104.43 L142.67 105.16 L142.84 105.93 L143.01 106.74 L143.18 107.57 L143.35 108.44 L143.52 109.33 L143.69 110.24 L143.86 111.19 L144.03 112.15 L144.20 113.13 L144.37 114.13 L144.54 115.15 L144.71 116.18 L144.88 117.22 L145.05 118.27 L145.22 119.33 L145.39 120.39 L145.56 121.46 L145.73 120.13 L145.89 118.80 L146.06 117.49 L146.23 116.20 L146.40 114.94 L146.57 113.71 L146.73 112.52 L146.90 111.37 L147.07 110.28 L147.24 109.24 L147.40 108.26 L147.57 107.36 L147.74 106.52 L147.91 105.76 L148.07 105.08 L148.24 104.49 L148.41 103.98 L148.58 103.56 L148.74 103.23 L148.91 102.99 L149.08 102.85 L149.25 102.80 L149.42 102.83 L149.59 102.92 L149.76 103.07 L149.93 103.28 L150.10 103.55 L150.27 103.87 L150.44 104.26 L150.61 104.69 L150.78 105.19 L150.95 105.74 L151.12 106.34 L151.29 106.99 L151.46 107.69 L151.63 108.44 L151.80 109.24 L151.98 110.07 L152.15 110.95 L152.32 111.87 L152.49 112.82 L152.66 113.81 L152.83 114.83 L153.00 115.88 L153.17 116.96 L153.34 118.06 L153.51 119.18 L153.68 120.32 L153.85 121.48 L154.02 122.64 L154.19 123.82 L154.36 125.00 L154.53 126.18 L154.70 124.82 L154.87 123.46 L155.04 122.12 L155.20 120.79 L155.37 119.50 L155.54 118.23 L155.71 117.01 L155.87 115.84 L156.04 114.72 L156.21 113.65 L156.38 112.65 L156.54 111.72 L156.71 110.87 L156.88 110.09 L157.05 109.39 L157.21 108.78 L157.38 108.26 L157.55 107.83 L157.72 107.49 L157.89 107.24 L158.05 107.10 L158.22 107.05 L158.39 107.07 L158.55 107.12 L158.72 107.20 L158.89 107.31 L159.05 107.46 L159.22 107.64 L159.38 107.85 L159.55 108.09 L159.72 108.37 L159.88 108.67 L160.05 109.01 L160.22 109.38 L160.38 109.77 L160.55 110.20 L160.71 110.65 L160.88 111.13 L161.05 111.64 L161.21 112.18 L161.38 112.74 L161.54 113.32 L161.71 113.93 L161.88 114.57 L162.04 115.22 L162.21 115.90 L162.38 116.60 L162.54 117.31 L162.71 118.05 L162.87 118.80 L163.04 119.57 L163.21 120.35 L163.37 121.15 L163.54 121.96 L163.70 122.79 L163.87 123.62 L164.04 124.47 L164.20 125.32 L164.37 126.18 L164.54 127.05 L164.70 127.92 L164.87 128.79 L165.03 129.67 L165.20 130.55 L165.37 129.17 L165.54 127.80 L165.71 126.45 L165.88 125.13 L166.05 123.83 L166.22 122.58 L166.39 121.38 L166.56 120.23 L166.73 119.15 L166.89 118.14 L167.06 117.20 L167.23 116.35 L167.40 115.59 L167.57 114.91 L167.74 114.34 L167.91 113.86 L168.08 113.48 L168.25 113.22 L168.42 113.05 L168.59 113.00 L168.76 113.02 L168.93 113.08 L169.10 113.18 L169.27 113.33 L169.44 113.51 L169.61 113.73 L169.78 113.99 L169.95 114.29 L170.12 114.63 L170.29 115.01 L170.46 115.42 L170.63 115.88 L170.80 116.36 L170.97 116.88 L171.14 117.44 L171.31 118.03 L171.48 118.65 L171.65 119.30 L171.82 119.98 L171.98 120.68 L172.15 121.42 L172.32 122.18 L172.49 122.96 L172.66 123.77 L172.83 124.60 L173.00 125.45 L173.17 126.32 L173.34 127.20 L173.51 128.10 L173.68 129.01 L173.85 129.94 L174.02 130.87 L174.19 131.82 L174.36 132.77 L174.53 133.72 L174.70 134.68 L174.87 135.64 L175.04 134.31 L175.21 132.99 L175.38 131.69 L175.55 130.41 L175.73 129.15 L175.90 127.93 L176.07 126.76 L176.24 125.63 L176.41 124.56 L176.58 123.56 L176.75 122.62 L176.92 121.75 L177.09 120.96 L177.26 120.26 L177.43 119.63 L177.61 119.10 L177.78 118.66 L177.95 118.32 L178.12 118.07 L178.29 117.92 L178.46 117.87 L178.63 117.90 L178.79 117.96 L178.96 118.06 L179.12 118.21 L179.29 118.40 L179.46 118.63 L179.62 118.89 L179.79 119.20 L179.96 119.55 L180.12 119.94 L180.29 120.36 L180.45 120.83 L180.62 121.32 L180.79 121.86 L180.95 122.43 L181.12 123.03 L181.28 123.66 L181.45 124.33 L181.62 125.02 L181.78 125.74 L181.95 126.49 L182.12 127.27 L182.28 128.06 L182.45 128.89 L182.61 129.73 L182.78 130.59 L182.95 131.47 L183.11 132.37 L183.28 133.28 L183.45 134.20 L183.61 135.13 L183.78 136.07 L183.94 137.02 L184.11 137.98 L184.28 138.94 L184.44 139.90 L184.62 138.57 L184.79 137.24 L184.96 135.93 L185.14 134.64 L185.31 133.37 L185.48 132.13 L185.66 130.93 L185.83 129.77 L186.00 128.66 L186.18 127.60 L186.35 126.59 L186.52 125.65 L186.70 124.78 L186.87 123.97 L187.04 123.24 L187.22 122.59 L187.39 122.02 L187.56 121.53 L187.74 121.13 L187.91 120.81 L188.08 120.59 L188.26 120.45 L188.43 120.40 L188.60 120.43 L188.77 120.49 L188.94 120.60 L189.11 120.75 L189.27 120.95 L189.44 121.18 L189.61 121.46 L189.78 121.78 L189.95 122.15 L190.12 122.55 L190.29 122.99 L190.46 123.47 L190.63 123.99 L190.80 124.54 L190.96 125.13 L191.13 125.76 L191.30 126.41 L191.47 127.10 L191.64 127.83 L191.81 128.58 L191.98 129.35 L192.15 130.16 L192.32 130.99 L192.48 131.84 L192.65 132.72 L192.82 133.61 L192.99 134.53 L193.16 135.46 L193.33 136.40 L193.50 137.36 L193.67 138.33 L193.84 139.31 L194.00 140.29 L194.17 141.29 L194.34 142.28 L194.51 143.28 L194.68 141.82 L194.85 140.38 L195.02 138.94 L195.20 137.54 L195.37 136.16 L195.54 134.83 L195.71 133.54 L195.88 132.31 L196.05 131.13 L196.22 130.03 L196.39 129.00 L196.56 128.05 L196.73 127.18 L196.90 126.41 L197.08 125.73 L197.25 125.15 L197.42 124.67 L197.59 124.29 L197.76 124.02 L197.93 123.85 L198.10 123.80 L198.27 123.82 L198.44 123.88 L198.61 123.98 L198.78 124.13 L198.94 124.31 L199.11 124.53 L199.28 124.80 L199.45 125.10 L199.62 125.44 L199.79 125.82 L199.96 126.24 L200.13 126.69 L200.29 127.18 L200.46 127.71 L200.63 128.27 L200.80 128.86 L200.97 129.49 L201.14 130.15 L201.31 130.84 L201.48 131.56 L201.64 132.31 L201.81 133.08 L201.98 133.88 L202.15 134.71 L202.32 135.55 L202.49 136.43 L202.66 137.32 L202.83 138.23 L202.99 139.15 L203.16 140.10 L203.33 141.05 L203.50 142.03 L203.67 143.01 L203.84 144.00 L204.01 145.00 L204.18 146.01 L204.34 147.02 L204.51 148.03 L204.68 149.05 L204.85 147.93 L205.02 146.82 L205.19 145.72 L205.36 144.62 L205.52 143.55 L205.69 142.49 L205.86 141.46 L206.03 140.45 L206.20 139.48 L206.37 138.54 L206.54 137.64 L206.71 136.78 L206.87 135.97 L207.04 135.20 L207.21 134.49 L207.38 133.82 L207.55 133.22 L207.72 132.67 L207.89 132.18 L208.06 131.75 L208.22 131.39 L208.39 131.09 L208.56 130.85 L208.73 130.68 L208.90 130.58 L209.07 130.55 M209.47 116.80 L209.64 116.83 L209.81 116.91 L209.98 117.04 L210.15 117.22 L210.32 117.46 L210.49 117.75 L210.66 118.08 L210.83 118.47 L211.00 118.91 L211.17 119.40 L211.34 119.93 L211.51 120.51 L211.68 121.14 L211.85 121.81 L212.02 122.52 L212.19 123.27 L212.36 124.06 L212.53 124.89 L212.70 125.75 L212.87 126.65 L213.04 127.58 L213.21 128.54 L213.38 129.52 L213.55 130.53 L213.72 131.57 L213.89 132.63 L214.06 133.71 L214.23 134.80 L214.40 135.91 L214.57 137.03 L214.74 138.16 L214.91 139.29 L215.08 140.44 L215.25 141.58 L215.42 140.43 L215.58 139.28 L215.75 138.14 L215.91 137.00 L216.08 135.88 L216.25 134.78 L216.41 133.69 L216.58 132.63 L216.74 131.59 L216.91 130.57 L217.08 129.59 L217.24 128.64 L217.41 127.73 L217.58 126.85 L217.74 126.01 L217.91 125.22 L218.07 124.47 L218.24 123.77 L218.41 123.12 L218.57 122.52 L218.74 121.97 L218.91 121.47 L219.07 121.03 L219.24 120.64 L219.40 120.32 L219.57 120.05 L219.74 119.84 L219.90 119.69 L220.07 119.60 L220.23 119.57 L220.41 119.60 L220.58 119.71 L220.75 119.90 L220.92 120.15 L221.09 120.48 L221.26 120.88 L221.43 121.35 L221.60 121.89 L221.77 122.50 L221.94 123.17 L222.11 123.90 L222.29 124.69 L222.46 125.54 L222.63 126.44 L222.80 127.40 L222.97 128.41 L223.14 129.46 L223.31 130.56 L223.48 131.69 L223.65 132.86 L223.82 134.06 L223.99 135.29 L224.17 136.55 L224.34 137.82 L224.51 139.12 L224.68 140.42 L224.85 141.73 L225.02 143.05 L225.19 141.73 L225.35 140.41 L225.52 139.10 L225.68 137.80 L225.85 136.53 L226.02 135.27 L226.18 134.04 L226.35 132.84 L226.52 131.68 L226.68 130.55 L226.85 129.46 L227.01 128.43 L227.18 127.44 L227.35 126.50 L227.51 125.62 L227.68 124.80 L227.84 124.04 L228.01 123.35 L228.18 122.72 L228.34 122.16 L228.51 121.67 L228.68 121.26 L228.84 120.91 L229.01 120.65 L229.17 120.45 L229.34 120.34 L229.51 120.30 L229.68 120.33 L229.85 120.44 L230.01 120.61 L230.18 120.85 L230.35 121.17 L230.52 121.54 L230.69 121.99 L230.86 122.50 L231.03 123.07 L231.20 123.70 L231.37 124.40 L231.54 125.15 L231.71 125.96 L231.88 126.82 L232.05 127.74 L232.22 128.70 L232.39 129.71 L232.56 130.77 L232.73 131.86 L232.90 133.00 L233.07 134.16 L233.24 135.36 L233.40 136.59 L233.57 137.84 L233.74 139.12 L233.91 140.41 L234.08 141.72 L234.25 143.04 L234.42 144.36 L234.59 145.69 L234.76 144.16 L234.93 142.63 L235.09 141.12 L235.26 139.62 L235.43 138.15 L235.60 136.70 L235.76 135.30 L235.93 133.93 L236.10 132.61 L236.27 131.34 L236.43 130.13 L236.60 128.98 L236.77 127.90 L236.94 126.88 L237.10 125.94 L237.27 125.08 L237.44 124.30 L237.61 123.60 L237.77 122.99 L237.94 122.47 L238.11 122.05 L238.28 121.71 L238.44 121.47 L238.61 121.33 L238.78 121.28 L238.95 121.31 L239.12 121.39 L239.29 121.53 L239.46 121.72 L239.63 121.97 L239.80 122.28 L239.98 122.63 L240.15 123.05 L240.32 123.51 L240.49 124.02 L240.66 124.59 L240.83 125.20 L241.00 125.86 L241.17 126.57 L241.34 127.32 L241.51 128.12 L241.68 128.96 L241.86 129.84 L242.03 130.76 L242.20 131.71 L242.37 132.70 L242.54 133.72 L242.71 134.77 L242.88 135.86 L243.05 136.96 L243.22 138.10 L243.39 139.25 L243.56 140.42 L243.74 141.61 L243.91 142.82 L244.08 144.04 L244.25 145.27 L244.42 146.50 L244.59 147.74 L244.76 148.99 L244.93 146.97 L245.10 144.96 L245.26 142.99 L245.43 141.05 L245.60 139.17 L245.77 137.36 L245.94 135.62 L246.10 133.98 L246.27 132.44 L246.44 131.01 L246.61 129.70 L246.78 128.53 L246.94 127.50 L247.11 126.61 L247.28 125.87 L247.45 125.30 L247.62 124.88 L247.78 124.63 L247.95 124.55 L248.12 124.57 L248.29 124.64 L248.46 124.76 L248.63 124.93 L248.80 125.14 L248.97 125.40 L249.14 125.70 L249.31 126.05 L249.48 126.44 L249.65 126.87 L249.82 127.35 L249.99 127.87 L250.16 128.43 L250.33 129.03 L250.50 129.66 L250.67 130.33 L250.84 131.04 L251.01 131.78 L251.18 132.55 L251.35 133.35 L251.52 134.19 L251.69 135.04 L251.86 135.93 L252.03 136.83 L252.20 137.76 L252.37 138.70 L252.54 139.67 L252.71 140.64 L252.88 141.63 L253.05 142.64 L253.22 143.65 L253.39 144.66 L253.56 145.68 L253.73 146.71 L253.90 145.36 L254.07 144.02 L254.24 142.70 L254.40 141.38 L254.57 140.09 L254.74 138.83 L254.91 137.59 L255.07 136.39 L255.24 135.24 L255.41 134.12 L255.58 133.06 L255.74 132.05 L255.91 131.10 L256.08 130.21 L256.25 129.39 L256.41 128.63 L256.58 127.95 L256.75 127.34 L256.92 126.80 L257.08 126.35 L257.25 125.97 L257.42 125.68 L257.59 125.47 L257.75 125.34 L257.92 125.30 L258.09 125.32 L258.25 125.39 L258.42 125.50 L258.59 125.65 L258.75 125.85 L258.92 126.08 L259.08 126.37 L259.25 126.69 L259.42 127.05 L259.58 127.46 L259.75 127.91 L259.92 128.39 L260.08 128.92 L260.25 129.48 L260.41 130.08 L260.58 130.72 L260.75 131.39 L260.91 132.09 L261.08 132.83 L261.24 133.60 L261.41 134.40 L261.58 135.22 L261.74 136.08 L261.91 136.96 L262.08 137.87 L262.24 138.80 L262.41 139.75 L262.57 140.73 L262.74 141.72 L262.91 142.73 L263.07 143.75 L263.24 144.79 L263.40 145.84 L263.57 146.90 L263.74 147.97 L263.90 149.05 L264.07 150.13 L264.24 151.21 L264.40 152.30 L264.57 151.17 L264.74 150.04 L264.92 148.94 L265.09 147.85 L265.26 146.81 L265.43 145.80 L265.60 144.84 L265.78 143.94 L265.95 143.11 L266.12 142.34 L266.29 141.65 L266.46 141.04 L266.63 140.52 L266.81 140.08 L266.98 139.74 L267.15 139.50 L267.32 139.35 L267.49 139.30 M267.89 112.55 L268.06 112.56 L268.22 112.58 L268.39 112.61 L268.56 112.65 L268.72 112.70 L268.89 112.74 L269.05 112.77 L269.22 112.79 L269.39 112.80 L269.56 112.86 L269.73 113.04 L269.89 113.34 L270.06 113.76 L270.23 114.29 L270.40 114.92 L270.57 115.66 L270.74 116.48 L270.91 117.39 L271.08 118.36 L271.25 119.40 L271.42 120.49 L271.59 121.61 L271.76 122.76 L271.93 123.93 L272.10 125.09 L272.27 126.24 L272.44 127.36 L272.61 128.45 L272.78 129.49 L272.95 130.46 L273.12 131.37 L273.28 132.19 L273.45 132.93 L273.62 133.56 L273.79 134.09 L273.96 134.51 L274.13 134.81 L274.30 134.99 L274.47 135.05 L274.64 135.00 L274.80 134.86 L274.97 134.62 L275.14 134.29 L275.30 133.88 L275.47 133.38 L275.63 132.80 L275.80 132.15 L275.97 131.44 L276.13 130.68 L276.30 129.86 L276.47 129.00 L276.63 128.12 L276.80 127.21 L276.96 126.30 L277.13 125.39 L277.30 124.48 L277.46 123.60 L277.63 122.74 L277.79 121.93 L277.96 121.16 L278.13 120.45 L278.29 119.80 L278.46 119.22 L278.63 118.72 L278.79 118.31 L278.96 117.98 L279.12 117.74 L279.29 117.60 L279.46 117.55 L279.62 117.62 L279.79 117.83 L279.96 118.17 L280.13 118.65 L280.29 119.26 L280.46 119.98 L280.63 120.81 L280.80 121.74 L280.96 122.76 L281.13 123.85 L281.30 125.00 L281.46 126.20 L281.63 127.43 L281.80 128.68 L281.97 129.92 L282.13 131.15 L282.30 132.35 L282.47 133.50 L282.64 134.59 L282.80 135.61 L282.97 136.54 L283.14 137.37 L283.31 138.09 L283.47 138.70 L283.64 139.18 L283.81 139.52 L283.97 139.73 L284.14 139.80 L284.31 139.75 L284.48 139.61 L284.65 139.38 L284.82 139.07 L284.99 138.66 L285.16 138.17 L285.33 137.61 L285.50 136.97 L285.66 136.26 L285.83 135.50 L286.00 134.68 L286.17 133.81 L286.34 132.90 L286.51 131.97 L286.68 131.01 L286.85 130.04 L287.02 129.06 L287.19 128.09 L287.36 127.13 L287.53 126.20 L287.70 125.29 L287.86 124.43 L288.03 123.60 L288.20 122.84 L288.37 122.13 L288.54 121.49 L288.71 120.93 L288.88 120.44 L289.05 120.03 L289.22 119.72 L289.39 119.49 L289.56 119.35 L289.73 119.30 L289.90 119.38 L290.07 119.60 L290.23 119.97 L290.40 120.48 L290.57 121.13 L290.74 121.90 L290.91 122.79 L291.08 123.78 L291.25 124.86 L291.42 126.02 L291.59 127.23 L291.76 128.49 L291.93 129.78 L292.10 131.07 L292.27 132.36 L292.44 133.62 L292.61 134.83 L292.78 135.99 L292.95 137.07 L293.12 138.06 L293.29 138.95 L293.46 139.72 L293.63 140.37 L293.80 140.88 L293.97 141.25 L294.14 141.47 L294.31 141.55 L294.48 141.50 L294.65 141.36 L294.83 141.11 L295.00 140.78 L295.17 140.35 L295.34 139.84 L295.51 139.25 L295.68 138.58 L295.85 137.85 L296.03 137.05 L296.20 136.20 L296.37 135.30 L296.54 134.36 L296.71 133.40 L296.88 132.42 L297.05 131.43 L297.22 130.43 L297.40 129.45 L297.57 128.49 L297.74 127.55 L297.91 126.65 L298.08 125.80 L298.25 125.00 L298.42 124.27 L298.60 123.60 L298.77 123.01 L298.94 122.50 L299.11 122.07 L299.28 121.74 L299.45 121.49 L299.62 121.35 L299.80 121.30 L299.96 121.37 L300.13 121.59 L300.30 121.96 L300.46 122.46 L300.63 123.10 L300.80 123.86 L300.97 124.74 L301.13 125.72 L301.30 126.80 L301.47 127.95 L301.64 129.17 L301.80 130.44 L301.97 131.73 L302.14 133.05 L302.31 134.37 L302.47 135.66 L302.64 136.93 L302.81 138.15 L302.97 139.30 L303.14 140.38 L303.31 141.36 L303.48 142.24 L303.64 143.00 L303.81 143.64 L303.98 144.14 L304.15 144.51 L304.31 144.73 L304.48 144.80 L304.65 144.72 L304.82 144.50 L304.99 144.13 L305.16 143.62 L305.33 142.97 L305.50 142.20 L305.67 141.31 L305.84 140.32 L306.01 139.24 L306.18 138.08 L306.35 136.87 L306.52 135.61 L306.69 134.32 L306.86 133.03 L307.03 131.74 L307.20 130.48 L307.37 129.27 L307.54 128.11 L307.71 127.03 L307.88 126.04 L308.05 125.15 L308.22 124.38 L308.39 123.73 L308.56 123.22 L308.73 122.85 L308.90 122.63 L309.07 122.55 L309.24 122.63 L309.41 122.86 L309.58 123.24 L309.75 123.77 L309.92 124.44 L310.09 125.24 L310.26 126.16 L310.43 127.18 L310.60 128.30 L310.77 129.50 L310.94 130.75 L311.11 132.05 L311.28 133.38 L311.45 134.72 L311.61 136.05 L311.78 137.35 L311.95 138.60 L312.12 139.80 L312.29 140.92 L312.46 141.94 L312.63 142.86 L312.80 143.66 L312.97 144.33 L313.14 144.86 L313.31 145.24 L313.48 145.47 L313.65 145.55 L313.82 145.50 L313.99 145.36 L314.16 145.12 L314.33 144.79 L314.50 144.37 L314.67 143.86 L314.84 143.28 L315.01 142.61 L315.18 141.88 L315.35 141.09 L315.51 140.24 L315.68 139.34 L315.85 138.40 L316.02 137.43 L316.19 136.44 L316.36 135.43 L316.53 134.42 L316.70 133.41 L316.87 132.42 L317.04 131.45 L317.21 130.51 L317.38 129.61 L317.54 128.76 L317.71 127.97 L317.88 127.24 L318.05 126.57 L318.22 125.99 L318.39 125.48 L318.56 125.06 L318.73 124.73 L318.90 124.49 L319.07 124.35 L319.24 124.30 L319.41 124.38 L319.58 124.61 L319.75 124.99 L319.92 125.52 L320.09 126.19 L320.26 126.99 L320.43 127.91 L320.60 128.93 L320.77 130.05 L320.94 131.25 L321.10 132.50 L321.27 133.80 L321.44 135.13 L321.61 136.47 L321.78 137.80 L321.95 139.10 L322.12 140.35 L322.29 141.55 L322.46 142.67 L322.63 143.69 L322.80 144.61 L322.97 145.41 L323.14 146.08 L323.31 146.61 L323.48 146.99 L323.65 147.22 L323.82 147.30 L323.99 147.25 L324.16 147.11 L324.33 146.87 L324.50 146.55 L324.67 146.13 L324.84 145.63 L325.01 145.05 L325.18 144.40 L325.35 143.68 L325.51 142.89 L325.68 142.05 L325.85 141.16 L326.02 140.23 L326.19 139.28 L326.36 138.29 L326.53 137.30 L326.70 136.30 L326.87 135.31 L327.04 134.32 L327.21 133.37 L327.38 132.44 L327.54 131.55 L327.71 130.71 L327.88 129.92 L328.05 129.20 L328.22 128.55 L328.39 127.97 L328.56 127.47 L328.73 127.05 L328.90 126.73 L329.07 126.49 L329.24 126.35 L329.41 126.30 L329.58 126.38 L329.75 126.62 L329.92 127.02 L330.09 127.58 L330.26 128.27 L330.43 129.11 L330.59 130.07 L330.76 131.13 L330.93 132.30 L331.10 133.55 L331.27 134.86 L331.44 136.22 L331.61 137.60 L331.78 139.00 L331.95 140.38 L332.12 141.74 L332.29 143.05 L332.46 144.30 L332.63 145.47 L332.80 146.53 L332.97 147.49 L333.14 148.33 L333.31 149.02 L333.48 149.58 L333.65 149.98 L333.82 150.22 L333.99 150.30 L334.16 150.22 L334.34 149.99 L334.51 149.62 L334.68 149.09 L334.85 148.44 L335.02 147.66 L335.19 146.76 L335.36 145.77 L335.54 144.70 L335.71 143.56 L335.88 142.38 L336.05 141.16 L336.22 139.94 L336.39 138.72 L336.56 137.54 L336.74 136.40 L336.91 135.33 L337.08 134.34 L337.25 133.44 L337.42 132.66 L337.59 132.01 L337.76 131.48 L337.94 131.11 L338.11 130.88 L338.28 130.80 L338.45 130.85 L338.61 131.01 L338.78 131.27 L338.94 131.62 L339.11 132.08 L339.28 132.63 L339.44 133.26 L339.61 133.98 L339.77 134.77 L339.94 135.63 L340.11 136.55 L340.27 137.52 L340.44 138.54 L340.61 139.59 L340.77 140.66 L340.94 141.75 L341.10 142.85 L341.27 143.94 L341.44 145.01 L341.60 146.06 L341.77 147.08 L341.93 148.05 L342.10 148.97 L342.27 149.83 L342.43 150.62 L342.60 151.34 L342.77 151.97 L342.93 152.52 L343.10 152.98 L343.26 153.33 L343.43 153.59 L343.60 153.75 L343.76 153.80 L343.93 153.73 L344.10 153.52 L344.28 153.18 L344.45 152.71 L344.62 152.11 L344.79 151.40 L344.96 150.58 L345.13 149.66 L345.30 148.65 L345.47 147.57 L345.64 146.43 L345.81 145.25 L345.98 144.03 L346.16 142.80 L346.33 141.57 L346.50 140.35 L346.67 139.17 L346.84 138.03 L347.01 136.95 L347.18 135.94 L347.35 135.02 L347.52 134.20 L347.69 133.49 L347.86 132.89 L348.04 132.42 L348.21 132.08 L348.38 131.87 L348.55 131.80 L348.72 131.86 L348.89 132.04 L349.06 132.34 L349.23 132.75 L349.41 133.28 L349.58 133.91 L349.75 134.64 L349.92 135.46 L350.09 136.37 L350.26 137.36 L350.43 138.41 L350.60 139.52 L350.78 140.67 L350.95 141.86 L351.12 143.07 L351.29 144.30 L351.46 145.53 L351.63 146.74 L351.80 147.93 L351.98 149.08 L352.15 150.19 L352.32 151.24 L352.49 152.23 L352.66 153.14 L352.83 153.96 L353.00 154.69 L353.18 155.32 L353.35 155.85 L353.52 156.26 L353.69 156.56 L353.86 156.74 L354.03 156.80 L354.20 156.73 L354.37 156.53 L354.54 156.20 L354.72 155.74 L354.89 155.15 L355.06 154.45 L355.23 153.65 L355.40 152.75 L355.57 151.77 L355.74 150.71 L355.91 149.60 L356.08 148.44 L356.25 147.25 L356.42 146.05 L356.60 144.85 L356.77 143.66 L356.94 142.50 L357.11 141.39 L357.28 140.33 L357.45 139.35 L357.62 138.45 L357.79 137.65 L357.96 136.95 L358.13 136.36 L358.30 135.90 L358.48 135.57 L358.65 135.37 L358.82 135.30 M359.22 77.05 L359.39 77.12 L359.56 77.34 L359.73 77.69 L359.90 78.17 L360.07 78.78 L360.24 79.50 L360.41 80.33 L360.58 81.24 L360.75 82.22 L360.92 83.26 L361.09 84.33 L361.26 85.43 L361.43 86.52 L361.60 87.59 L361.77 88.63 L361.94 89.61 L362.11 90.52 L362.28 91.35 L362.45 92.07 L362.62 92.68 L362.79 93.16 L362.96 93.51 L363.13 93.73 L363.30 93.80 L363.47 93.77 L363.64 93.70 L363.81 93.57 L363.97 93.39 L364.14 93.17 L364.31 92.90 L364.48 92.59 L364.64 92.25 L364.81 91.87 L364.98 91.46 L365.14 91.04 L365.31 90.59 L365.48 90.14 L365.65 89.68 L365.81 89.21 L365.98 88.76 L366.15 88.31 L366.32 87.89 L366.48 87.48 L366.65 87.10 L366.82 86.76 L366.99 86.45 L367.15 86.18 L367.32 85.96 L367.49 85.78 L367.66 85.65 L367.82 85.58 L367.99 85.55 L368.16 85.59 L368.32 85.71 L368.49 85.91 L368.65 86.19 L368.82 86.55 L368.99 86.98 L369.15 87.48 L369.32 88.04 L369.49 88.66 L369.65 89.33 L369.82 90.05 L369.98 90.81 L370.15 91.61 L370.32 92.43 L370.48 93.27 L370.65 94.12 L370.81 94.98 L370.98 95.83 L371.15 96.67 L371.31 97.49 L371.48 98.29 L371.65 99.05 L371.81 99.77 L371.98 100.44 L372.14 101.06 L372.31 101.62 L372.48 102.12 L372.64 102.55 L372.81 102.91 L372.97 103.19 L373.14 103.39 L373.31 103.51 L373.47 103.55 L373.64 103.53 L373.81 103.46 L373.98 103.36 L374.14 103.21 L374.31 103.02 L374.48 102.80 L374.65 102.55 L374.81 102.27 L374.98 101.97 L375.15 101.65 L375.32 101.32 L375.48 100.97 L375.65 100.63 L375.82 100.28 L375.99 99.95 L376.15 99.63 L376.32 99.33 L376.49 99.05 L376.66 98.80 L376.82 98.58 L376.99 98.39 L377.16 98.24 L377.33 98.14 L377.49 98.07 L377.66 98.05 L377.83 98.10 L377.99 98.26 L378.16 98.52 L378.33 98.88 L378.50 99.34 L378.66 99.89 L378.83 100.54 L379.00 101.27 L379.16 102.08 L379.33 102.97 L379.50 103.93 L379.67 104.95 L379.83 106.02 L380.00 107.14 L380.17 108.30 L380.33 109.50 L380.50 110.71 L380.67 111.93 L380.83 113.17 L381.00 114.39 L381.17 115.60 L381.34 116.80 L381.50 117.96 L381.67 119.08 L381.84 120.15 L382.00 121.17 L382.17 122.13 L382.34 123.02 L382.51 123.83 L382.67 124.56 L382.84 125.21 L383.01 125.76 L383.17 126.22 L383.34 126.58 L383.51 126.84 L383.68 127.00 L383.84 127.05 L384.01 127.00 L384.17 126.84 L384.34 126.58 L384.51 126.22 L384.67 125.76 L384.84 125.21 L385.01 124.58 L385.17 123.87 L385.34 123.08 L385.50 122.24 L385.67 121.34 L385.84 120.40 L386.00 119.43 L386.17 118.43 L386.33 117.43 L386.50 116.42 L386.67 115.42 L386.83 114.45 L387.00 113.51 L387.17 112.61 L387.33 111.77 L387.50 110.98 L387.66 110.27 L387.83 109.64 L388.00 109.09 L388.16 108.63 L388.33 108.27 L388.49 108.01 L388.66 107.85 L388.83 107.80 L388.99 107.85 L389.16 108.02 L389.33 108.28 L389.50 108.65 L389.66 109.11 L389.83 109.66 L390.00 110.29 L390.17 110.99 L390.33 111.75 L390.50 112.55 L390.67 113.39 L390.84 114.24 L391.00 115.11 L391.17 115.96 L391.34 116.80 L391.51 117.60 L391.67 118.36 L391.84 119.06 L392.01 119.69 L392.18 120.24 L392.34 120.70 L392.51 121.07 L392.68 121.33 L392.85 121.50 L393.01 121.55" class="fit"/>
<rect x="31.6" y="48.0" width="65.6" height="9.0" fill="#006400"/>
<rect x="97.2" y="48.0" width="60.2" height="9.0" fill="#fffa98"/>
<rect x="157.4" y="48.0" width="201.8" height="9.0" fill="#006400"/>
<rect x="359.2" y="48.0" width="34.0" height="9.0" fill="#fffa98"/>
<rect x="393.2" y="48.0" width="15.8" height="9.0" fill="#006400"/>
<rect x="31.6" y="48.0" width="377.4" height="9.0" fill="none" stroke="#1a1a1a" stroke-width="0.9"/>
<line x1="97.2" y1="48.0" x2="97.2" y2="57.0" stroke="#1a1a1a" stroke-width="0.5"/>
<line x1="157.4" y1="48.0" x2="157.4" y2="57.0" stroke="#1a1a1a" stroke-width="0.5"/>
<line x1="359.2" y1="48.0" x2="359.2" y2="57.0" stroke="#1a1a1a" stroke-width="0.5"/>
<line x1="393.2" y1="48.0" x2="393.2" y2="57.0" stroke="#1a1a1a" stroke-width="0.5"/>
<text class="bw" x="64.4" y="54.9">Tree Cover</text>
<text class="bk" x="127.8" y="54.9">Grass/Shrub</text>
<text class="bw" x="253.8" y="54.9">Tree Cover</text>
<rect x="31.3" y="45.5" width="376.5" height="124.7" class="frame"/>
<text class="yt" transform="translate(27.6 145.3) rotate(-90) scale(0.84 1)">0.1</text>
<text class="yt" transform="translate(27.6 120.3) rotate(-90) scale(0.84 1)">0.2</text>
<text class="yt" transform="translate(27.6 95.3) rotate(-90) scale(0.84 1)">0.3</text>
<text class="yt" transform="translate(27.6 70.3) rotate(-90) scale(0.84 1)">0.4</text>
<text class="lab" x="32.4" y="84.2">Shortwave IR - 1</text>
<text class="xt" x="66.1" y="179.3">1985</text>
<text class="xt" x="115.9" y="179.3">1990</text>
<text class="xt" x="165.8" y="179.3">1995</text>
<text class="xt" x="215.7" y="179.3">2000</text>
<text class="xt" x="265.5" y="179.3">2005</text>
<text class="xt" x="315.4" y="179.3">2010</text>
<text class="xt" x="365.2" y="179.3">2015</text>
<line x1="65.5" y1="185.5" x2="65.5" y2="311.3" class="grid"/>
<line x1="115.3" y1="185.5" x2="115.3" y2="311.3" class="grid"/>
<line x1="165.2" y1="185.5" x2="165.2" y2="311.3" class="grid"/>
<line x1="215.1" y1="185.5" x2="215.1" y2="311.3" class="grid"/>
<line x1="264.9" y1="185.5" x2="264.9" y2="311.3" class="grid"/>
<line x1="314.8" y1="185.5" x2="314.8" y2="311.3" class="grid"/>
<line x1="364.6" y1="185.5" x2="364.6" y2="311.3" class="grid"/>
<line x1="31.3" y1="269.2" x2="35.1" y2="269.2" class="tick"/>
<line x1="404.0" y1="269.2" x2="407.8" y2="269.2" class="tick"/>
<line x1="31.3" y1="227.3" x2="35.1" y2="227.3" class="tick"/>
<line x1="404.0" y1="227.3" x2="407.8" y2="227.3" class="tick"/>
<circle cx="79.5" cy="249.7" r="1.05" class="gp"/>
<circle cx="62.9" cy="265.8" r="1.05" class="gp"/>
<circle cx="84.8" cy="268.0" r="1.05" class="gp"/>
<circle cx="92.4" cy="266.0" r="1.05" class="gp"/>
<circle cx="94.5" cy="268.0" r="1.05" class="gp"/>
<circle cx="107.9" cy="214.7" r="1.05" class="gp"/>
<circle cx="142.4" cy="201.2" r="1.05" class="gp"/>
<circle cx="150.6" cy="201.8" r="1.05" class="gp"/>
<circle cx="160.7" cy="198.4" r="1.05" class="gp"/>
<circle cx="144.1" cy="214.7" r="1.05" class="gp"/>
<circle cx="148.4" cy="214.7" r="1.05" class="gp"/>
<circle cx="150.6" cy="229.0" r="1.05" class="gp"/>
<circle cx="141.3" cy="234.1" r="1.05" class="gp"/>
<circle cx="134.8" cy="238.4" r="1.05" class="gp"/>
<circle cx="152.0" cy="237.8" r="1.05" class="gp"/>
<circle cx="119.8" cy="242.7" r="1.05" class="gp"/>
<circle cx="130.5" cy="249.6" r="1.05" class="gp"/>
<circle cx="160.7" cy="249.6" r="1.05" class="gp"/>
<circle cx="161.2" cy="198.5" r="1.05" class="gp"/>
<circle cx="182.9" cy="204.6" r="1.05" class="gp"/>
<circle cx="223.8" cy="221.6" r="1.05" class="gp"/>
<circle cx="235.2" cy="215.3" r="1.05" class="gp"/>
<circle cx="236.8" cy="221.0" r="1.05" class="gp"/>
<circle cx="243.9" cy="209.3" r="1.05" class="gp"/>
<circle cx="214.4" cy="228.7" r="1.05" class="gp"/>
<circle cx="223.4" cy="231.1" r="1.05" class="gp"/>
<circle cx="238.0" cy="231.6" r="1.05" class="gp"/>
<circle cx="240.4" cy="237.5" r="1.05" class="gp"/>
<circle cx="243.5" cy="235.1" r="1.05" class="gp"/>
<circle cx="247.0" cy="234.2" r="1.05" class="gp"/>
<circle cx="264.7" cy="212.9" r="1.05" class="gp"/>
<circle cx="261.7" cy="222.8" r="1.05" class="gp"/>
<circle cx="265.2" cy="217.6" r="1.05" class="gp"/>
<circle cx="270.6" cy="216.2" r="1.05" class="gp"/>
<circle cx="273.5" cy="207.9" r="1.05" class="gp"/>
<circle cx="279.4" cy="195.6" r="1.05" class="gp"/>
<circle cx="287.0" cy="194.9" r="1.05" class="gp"/>
<circle cx="275.8" cy="225.9" r="1.05" class="gp"/>
<circle cx="280.6" cy="237.0" r="1.05" class="gp"/>
<circle cx="175.7" cy="258.7" r="1.05" class="gp"/>
<circle cx="198.0" cy="250.4" r="1.05" class="gp"/>
<circle cx="199.0" cy="254.0" r="1.05" class="gp"/>
<circle cx="193.4" cy="268.1" r="1.05" class="gp"/>
<circle cx="215.9" cy="246.8" r="1.05" class="gp"/>
<circle cx="218.3" cy="257.5" r="1.05" class="gp"/>
<circle cx="239.6" cy="237.4" r="1.05" class="gp"/>
<circle cx="282.4" cy="237.0" r="1.05" class="gp"/>
<circle cx="289.5" cy="188.5" r="1.05" class="gp"/>
<circle cx="286.6" cy="194.9" r="1.05" class="gp"/>
<circle cx="298.4" cy="211.5" r="1.05" class="gp"/>
<circle cx="318.3" cy="195.6" r="1.05" class="gp"/>
<circle cx="319.0" cy="207.0" r="1.05" class="gp"/>
<circle cx="342.6" cy="199.7" r="1.05" class="gp"/>
<circle cx="345.7" cy="207.9" r="1.05" class="gp"/>
<circle cx="347.4" cy="211.5" r="1.05" class="gp"/>
<circle cx="350.2" cy="214.6" r="1.05" class="gp"/>
<circle cx="353.3" cy="194.5" r="1.05" class="gp"/>
<circle cx="355.0" cy="196.0" r="1.05" class="gp"/>
<circle cx="358.5" cy="209.1" r="1.05" class="gp"/>
<circle cx="363.2" cy="209.1" r="1.05" class="gp"/>
<circle cx="362.7" cy="218.1" r="1.05" class="gp"/>
<circle cx="363.9" cy="221.6" r="1.05" class="gp"/>
<circle cx="376.5" cy="208.6" r="1.05" class="gp"/>
<circle cx="384.0" cy="204.4" r="1.05" class="gp"/>
<circle cx="378.1" cy="221.6" r="1.05" class="gp"/>
<circle cx="334.4" cy="234.6" r="1.05" class="gp"/>
<circle cx="355.7" cy="233.5" r="1.05" class="gp"/>
<circle cx="353.3" cy="239.8" r="1.05" class="gp"/>
<circle cx="325.7" cy="245.7" r="1.05" class="gp"/>
<circle cx="327.0" cy="249.0" r="1.05" class="gp"/>
<circle cx="339.9" cy="245.7" r="1.05" class="gp"/>
<circle cx="352.9" cy="239.7" r="1.05" class="gp"/>
<circle cx="330.4" cy="258.7" r="1.05" class="gp"/>
<circle cx="336.3" cy="261.0" r="1.05" class="gp"/>
<circle cx="318.6" cy="271.7" r="1.05" class="gp"/>
<circle cx="330.0" cy="268.0" r="1.05" class="gp"/>
<circle cx="338.7" cy="282.4" r="1.05" class="gp"/>
<circle cx="381.4" cy="248.0" r="1.05" class="gp"/>
<circle cx="384.9" cy="250.4" r="1.05" class="gp"/>
<circle cx="388.0" cy="249.0" r="1.05" class="gp"/>
<circle cx="379.0" cy="259.9" r="1.05" class="gp"/>
<circle cx="386.0" cy="262.0" r="1.05" class="gp"/>
<circle cx="100.0" cy="263.0" r="1.05" class="gp"/>
<circle cx="104.0" cy="270.0" r="1.05" class="gp"/>
<circle cx="113.0" cy="279.0" r="1.05" class="gp"/>
<circle cx="122.0" cy="284.0" r="1.05" class="gp"/>
<circle cx="133.0" cy="290.0" r="1.05" class="gp"/>
<circle cx="170.0" cy="296.0" r="1.05" class="gp"/>
<circle cx="180.0" cy="302.0" r="1.05" class="gp"/>
<circle cx="190.0" cy="305.0" r="1.05" class="gp"/>
<circle cx="225.0" cy="304.0" r="1.05" class="gp"/>
<circle cx="250.0" cy="305.0" r="1.05" class="gp"/>
<circle cx="262.0" cy="306.0" r="1.05" class="gp"/>
<circle cx="290.0" cy="303.0" r="1.05" class="gp"/>
<circle cx="300.0" cy="306.0" r="1.05" class="gp"/>
<circle cx="60.0" cy="215.0" r="1.05" class="gp"/>
<circle cx="126.0" cy="196.0" r="1.05" class="gp"/>
<circle cx="205.0" cy="212.0" r="1.05" class="gp"/>
<circle cx="250.0" cy="200.0" r="1.05" class="gp"/>
<circle cx="300.0" cy="225.0" r="1.05" class="gp"/>
<circle cx="312.0" cy="240.0" r="1.05" class="gp"/>
<circle cx="396.0" cy="270.0" r="1.05" class="gp"/>
<circle cx="400.0" cy="245.0" r="1.05" class="gp"/>
<circle cx="398.0" cy="296.0" r="1.05" class="gp"/>
<circle cx="364.7" cy="243.8" r="1.05" class="gp"/>
<circle cx="365.5" cy="246.0" r="1.05" class="gp"/>
<circle cx="382.0" cy="247.9" r="1.05" class="gp"/>
<circle cx="384.1" cy="249.3" r="1.05" class="gp"/>
<circle cx="388.2" cy="250.0" r="1.05" class="gp"/>
<circle cx="389.6" cy="256.2" r="1.05" class="gp"/>
<circle cx="377.2" cy="260.4" r="1.05" class="gp"/>
<circle cx="379.2" cy="261.1" r="1.05" class="gp"/>
<circle cx="383.4" cy="261.8" r="1.05" class="gp"/>
<circle cx="385.5" cy="265.2" r="1.05" class="gp"/>
<circle cx="381.5" cy="297.1" r="1.05" class="gp"/>
<circle cx="385.6" cy="265.7" r="1.05" class="gp"/>
<line x1="98.0" y1="185.5" x2="98.0" y2="311.3" class="brk"/>
<line x1="209.3" y1="185.5" x2="209.3" y2="311.3" class="brk"/>
<line x1="267.7" y1="185.5" x2="267.7" y2="311.3" class="brk"/>
<line x1="359.0" y1="185.5" x2="359.0" y2="311.3" class="brk"/>
<circle cx="102.6" cy="258.4" r="2.0" class="dp"/>
<circle cx="101.8" cy="254.3" r="2.0" class="dp"/>
<circle cx="98.6" cy="241.6" r="2.0" class="dp"/>
<circle cx="111.1" cy="261.5" r="2.0" class="dp"/>
<circle cx="113.6" cy="265.7" r="2.0" class="dp"/>
<circle cx="108.3" cy="247.7" r="2.0" class="dp"/>
<circle cx="108.4" cy="250.5" r="2.0" class="dp"/>
<circle cx="108.0" cy="254.7" r="2.0" class="dp"/>
<circle cx="106.4" cy="255.4" r="2.0" class="dp"/>
<circle cx="113.6" cy="269.8" r="2.0" class="dp"/>
<circle cx="107.8" cy="259.1" r="2.0" class="dp"/>
<circle cx="111.3" cy="262.1" r="2.0" class="dp"/>
<circle cx="124.8" cy="263.6" r="2.0" class="dp"/>
<circle cx="115.9" cy="255.6" r="2.0" class="dp"/>
<circle cx="119.5" cy="252.3" r="2.0" class="dp"/>
<circle cx="122.2" cy="264.8" r="2.0" class="dp"/>
<circle cx="125.1" cy="265.7" r="2.0" class="dp"/>
<circle cx="120.7" cy="271.1" r="2.0" class="dp"/>
<circle cx="125.2" cy="268.8" r="2.0" class="dp"/>
<circle cx="125.1" cy="272.2" r="2.0" class="dp"/>
<circle cx="119.1" cy="257.4" r="2.0" class="dp"/>
<circle cx="130.0" cy="263.5" r="2.0" class="dp"/>
<circle cx="127.3" cy="253.0" r="2.0" class="dp"/>
<circle cx="127.5" cy="264.0" r="2.0" class="dp"/>
<circle cx="126.4" cy="268.6" r="2.0" class="dp"/>
<circle cx="130.7" cy="267.2" r="2.0" class="dp"/>
<circle cx="133.4" cy="271.2" r="2.0" class="dp"/>
<circle cx="134.3" cy="267.7" r="2.0" class="dp"/>
<circle cx="129.8" cy="268.8" r="2.0" class="dp"/>
<circle cx="133.4" cy="264.5" r="2.0" class="dp"/>
<circle cx="144.2" cy="277.0" r="2.0" class="dp"/>
<circle cx="142.2" cy="277.7" r="2.0" class="dp"/>
<circle cx="143.6" cy="277.1" r="2.0" class="dp"/>
<circle cx="138.2" cy="267.6" r="2.0" class="dp"/>
<circle cx="139.4" cy="267.8" r="2.0" class="dp"/>
<circle cx="140.8" cy="276.5" r="2.0" class="dp"/>
<circle cx="143.5" cy="271.2" r="2.0" class="dp"/>
<circle cx="138.6" cy="263.1" r="2.0" class="dp"/>
<circle cx="140.9" cy="270.5" r="2.0" class="dp"/>
<circle cx="154.7" cy="280.9" r="2.0" class="dp"/>
<circle cx="146.0" cy="275.1" r="2.0" class="dp"/>
<circle cx="147.6" cy="271.0" r="2.0" class="dp"/>
<circle cx="150.9" cy="280.0" r="2.0" class="dp"/>
<circle cx="152.4" cy="277.2" r="2.0" class="dp"/>
<circle cx="145.3" cy="278.5" r="2.0" class="dp"/>
<circle cx="146.7" cy="262.9" r="2.0" class="dp"/>
<circle cx="153.9" cy="277.2" r="2.0" class="dp"/>
<circle cx="147.0" cy="262.2" r="2.0" class="dp"/>
<circle cx="159.7" cy="279.6" r="2.0" class="dp"/>
<circle cx="162.2" cy="281.9" r="2.0" class="dp"/>
<circle cx="160.0" cy="280.7" r="2.0" class="dp"/>
<circle cx="160.8" cy="284.9" r="2.0" class="dp"/>
<circle cx="160.5" cy="282.4" r="2.0" class="dp"/>
<circle cx="156.1" cy="266.7" r="2.0" class="dp"/>
<circle cx="164.0" cy="280.5" r="2.0" class="dp"/>
<circle cx="163.0" cy="286.6" r="2.0" class="dp"/>
<circle cx="161.9" cy="284.9" r="2.0" class="dp"/>
<circle cx="168.4" cy="282.9" r="2.0" class="dp"/>
<circle cx="168.7" cy="284.9" r="2.0" class="dp"/>
<circle cx="168.6" cy="272.6" r="2.0" class="dp"/>
<circle cx="169.1" cy="289.1" r="2.0" class="dp"/>
<circle cx="170.0" cy="282.1" r="2.0" class="dp"/>
<circle cx="170.7" cy="287.4" r="2.0" class="dp"/>
<circle cx="166.1" cy="274.9" r="2.0" class="dp"/>
<circle cx="167.4" cy="278.3" r="2.0" class="dp"/>
<circle cx="170.2" cy="278.7" r="2.0" class="dp"/>
<circle cx="176.3" cy="288.9" r="2.0" class="dp"/>
<circle cx="180.8" cy="290.6" r="2.0" class="dp"/>
<circle cx="179.6" cy="285.4" r="2.0" class="dp"/>
<circle cx="183.7" cy="298.4" r="2.0" class="dp"/>
<circle cx="177.6" cy="275.3" r="2.0" class="dp"/>
<circle cx="175.6" cy="290.0" r="2.0" class="dp"/>
<circle cx="183.2" cy="296.3" r="2.0" class="dp"/>
<circle cx="176.6" cy="282.0" r="2.0" class="dp"/>
<circle cx="183.5" cy="290.8" r="2.0" class="dp"/>
<circle cx="189.1" cy="286.3" r="2.0" class="dp"/>
<circle cx="191.9" cy="297.4" r="2.0" class="dp"/>
<circle cx="194.3" cy="298.2" r="2.0" class="dp"/>
<circle cx="191.7" cy="291.5" r="2.0" class="dp"/>
<circle cx="194.2" cy="290.7" r="2.0" class="dp"/>
<circle cx="187.0" cy="285.4" r="2.0" class="dp"/>
<circle cx="186.5" cy="291.7" r="2.0" class="dp"/>
<circle cx="192.4" cy="303.7" r="2.0" class="dp"/>
<circle cx="190.8" cy="293.4" r="2.0" class="dp"/>
<circle cx="202.8" cy="301.3" r="2.0" class="dp"/>
<circle cx="201.0" cy="305.0" r="2.0" class="dp"/>
<circle cx="198.4" cy="292.2" r="2.0" class="dp"/>
<circle cx="203.7" cy="303.2" r="2.0" class="dp"/>
<circle cx="197.2" cy="292.9" r="2.0" class="dp"/>
<circle cx="201.3" cy="299.6" r="2.0" class="dp"/>
<circle cx="200.4" cy="296.5" r="2.0" class="dp"/>
<circle cx="198.7" cy="297.5" r="2.0" class="dp"/>
<circle cx="201.6" cy="301.9" r="2.0" class="dp"/>
<circle cx="208.2" cy="304.0" r="2.0" class="dp"/>
<circle cx="206.4" cy="306.4" r="2.0" class="dp"/>
<circle cx="205.5" cy="299.7" r="2.0" class="dp"/>
<circle cx="209.0" cy="295.4" r="2.0" class="dp"/>
<circle cx="207.2" cy="304.9" r="2.0" class="dp"/>
<circle cx="205.7" cy="305.3" r="2.0" class="dp"/>
<circle cx="211.0" cy="276.7" r="2.0" class="dp"/>
<circle cx="211.8" cy="287.4" r="2.0" class="dp"/>
<circle cx="213.3" cy="292.3" r="2.0" class="dp"/>
<circle cx="210.8" cy="275.0" r="2.0" class="dp"/>
<circle cx="211.3" cy="283.2" r="2.0" class="dp"/>
<circle cx="211.1" cy="272.1" r="2.0" class="dp"/>
<circle cx="211.7" cy="289.7" r="2.0" class="dp"/>
<circle cx="223.4" cy="298.7" r="2.0" class="dp"/>
<circle cx="215.6" cy="287.9" r="2.0" class="dp"/>
<circle cx="215.4" cy="299.2" r="2.0" class="dp"/>
<circle cx="222.4" cy="286.5" r="2.0" class="dp"/>
<circle cx="222.1" cy="293.0" r="2.0" class="dp"/>
<circle cx="216.7" cy="287.0" r="2.0" class="dp"/>
<circle cx="221.1" cy="280.8" r="2.0" class="dp"/>
<circle cx="220.2" cy="278.8" r="2.0" class="dp"/>
<circle cx="220.5" cy="281.1" r="2.0" class="dp"/>
<circle cx="219.8" cy="278.2" r="2.0" class="dp"/>
<circle cx="216.5" cy="287.7" r="2.0" class="dp"/>
<circle cx="221.2" cy="289.1" r="2.0" class="dp"/>
<circle cx="222.5" cy="297.1" r="2.0" class="dp"/>
<circle cx="227.0" cy="286.0" r="2.0" class="dp"/>
<circle cx="228.5" cy="277.2" r="2.0" class="dp"/>
<circle cx="227.9" cy="280.9" r="2.0" class="dp"/>
<circle cx="229.9" cy="290.7" r="2.0" class="dp"/>
<circle cx="228.0" cy="282.2" r="2.0" class="dp"/>
<circle cx="234.6" cy="288.2" r="2.0" class="dp"/>
<circle cx="230.7" cy="287.4" r="2.0" class="dp"/>
<circle cx="234.0" cy="293.5" r="2.0" class="dp"/>
<circle cx="234.5" cy="290.6" r="2.0" class="dp"/>
<circle cx="231.7" cy="287.0" r="2.0" class="dp"/>
<circle cx="234.7" cy="288.9" r="2.0" class="dp"/>
<circle cx="226.1" cy="286.8" r="2.0" class="dp"/>
<circle cx="225.8" cy="290.4" r="2.0" class="dp"/>
<circle cx="242.9" cy="300.3" r="2.0" class="dp"/>
<circle cx="241.3" cy="302.4" r="2.0" class="dp"/>
<circle cx="240.1" cy="288.0" r="2.0" class="dp"/>
<circle cx="244.9" cy="291.8" r="2.0" class="dp"/>
<circle cx="241.4" cy="292.0" r="2.0" class="dp"/>
<circle cx="242.3" cy="298.9" r="2.0" class="dp"/>
<circle cx="242.3" cy="290.8" r="2.0" class="dp"/>
<circle cx="236.7" cy="281.3" r="2.0" class="dp"/>
<circle cx="237.2" cy="277.8" r="2.0" class="dp"/>
<circle cx="236.4" cy="283.7" r="2.0" class="dp"/>
<circle cx="244.7" cy="290.3" r="2.0" class="dp"/>
<circle cx="242.6" cy="297.8" r="2.0" class="dp"/>
<circle cx="240.7" cy="296.1" r="2.0" class="dp"/>
<circle cx="251.3" cy="294.8" r="2.0" class="dp"/>
<circle cx="246.3" cy="290.2" r="2.0" class="dp"/>
<circle cx="250.8" cy="292.7" r="2.0" class="dp"/>
<circle cx="250.1" cy="283.4" r="2.0" class="dp"/>
<circle cx="253.5" cy="303.0" r="2.0" class="dp"/>
<circle cx="245.8" cy="296.2" r="2.0" class="dp"/>
<circle cx="251.1" cy="285.7" r="2.0" class="dp"/>
<circle cx="253.3" cy="298.5" r="2.0" class="dp"/>
<circle cx="252.9" cy="292.6" r="2.0" class="dp"/>
<circle cx="246.4" cy="287.9" r="2.0" class="dp"/>
<circle cx="254.7" cy="297.2" r="2.0" class="dp"/>
<circle cx="251.1" cy="294.8" r="2.0" class="dp"/>
<circle cx="253.0" cy="297.7" r="2.0" class="dp"/>
<circle cx="260.1" cy="293.0" r="2.0" class="dp"/>
<circle cx="264.2" cy="304.2" r="2.0" class="dp"/>
<circle cx="262.9" cy="298.4" r="2.0" class="dp"/>
<circle cx="260.9" cy="293.3" r="2.0" class="dp"/>
<circle cx="263.1" cy="302.7" r="2.0" class="dp"/>
<circle cx="256.2" cy="299.8" r="2.0" class="dp"/>
<circle cx="257.0" cy="293.0" r="2.0" class="dp"/>
<circle cx="259.9" cy="281.1" r="2.0" class="dp"/>
<circle cx="255.9" cy="298.1" r="2.0" class="dp"/>
<circle cx="257.4" cy="296.3" r="2.0" class="dp"/>
<circle cx="259.5" cy="281.2" r="2.0" class="dp"/>
<circle cx="256.5" cy="297.5" r="2.0" class="dp"/>
<circle cx="265.3" cy="302.1" r="2.0" class="dp"/>
<circle cx="266.4" cy="300.8" r="2.0" class="dp"/>
<circle cx="265.4" cy="302.7" r="2.0" class="dp"/>
<circle cx="272.7" cy="280.0" r="2.0" class="dp"/>
<circle cx="269.2" cy="274.4" r="2.0" class="dp"/>
<circle cx="269.7" cy="275.1" r="2.0" class="dp"/>
<circle cx="271.5" cy="280.5" r="2.0" class="dp"/>
<circle cx="268.7" cy="275.9" r="2.0" class="dp"/>
<circle cx="273.7" cy="285.6" r="2.0" class="dp"/>
<circle cx="274.3" cy="278.5" r="2.0" class="dp"/>
<circle cx="272.7" cy="278.0" r="2.0" class="dp"/>
<circle cx="271.8" cy="272.2" r="2.0" class="dp"/>
<circle cx="272.6" cy="275.1" r="2.0" class="dp"/>
<circle cx="271.1" cy="267.8" r="2.0" class="dp"/>
<circle cx="271.2" cy="278.8" r="2.0" class="dp"/>
<circle cx="274.1" cy="283.2" r="2.0" class="dp"/>
<circle cx="280.2" cy="276.6" r="2.0" class="dp"/>
<circle cx="280.1" cy="273.9" r="2.0" class="dp"/>
<circle cx="281.1" cy="283.1" r="2.0" class="dp"/>
<circle cx="281.1" cy="277.9" r="2.0" class="dp"/>
<circle cx="282.2" cy="287.1" r="2.0" class="dp"/>
<circle cx="280.9" cy="283.6" r="2.0" class="dp"/>
<circle cx="276.4" cy="286.1" r="2.0" class="dp"/>
<circle cx="275.0" cy="289.6" r="2.0" class="dp"/>
<circle cx="275.7" cy="286.1" r="2.0" class="dp"/>
<circle cx="279.7" cy="283.7" r="2.0" class="dp"/>
<circle cx="282.7" cy="280.4" r="2.0" class="dp"/>
<circle cx="281.5" cy="281.3" r="2.0" class="dp"/>
<circle cx="276.0" cy="291.2" r="2.0" class="dp"/>
<circle cx="290.9" cy="285.5" r="2.0" class="dp"/>
<circle cx="289.1" cy="270.0" r="2.0" class="dp"/>
<circle cx="293.7" cy="294.3" r="2.0" class="dp"/>
<circle cx="291.1" cy="286.0" r="2.0" class="dp"/>
<circle cx="291.7" cy="290.5" r="2.0" class="dp"/>
<circle cx="294.5" cy="285.0" r="2.0" class="dp"/>
<circle cx="291.7" cy="279.3" r="2.0" class="dp"/>
<circle cx="286.3" cy="286.4" r="2.0" class="dp"/>
<circle cx="292.1" cy="291.6" r="2.0" class="dp"/>
<circle cx="288.2" cy="285.8" r="2.0" class="dp"/>
<circle cx="290.3" cy="290.7" r="2.0" class="dp"/>
<circle cx="285.4" cy="293.4" r="2.0" class="dp"/>
<circle cx="288.6" cy="282.7" r="2.0" class="dp"/>
<circle cx="296.0" cy="283.1" r="2.0" class="dp"/>
<circle cx="295.4" cy="289.9" r="2.0" class="dp"/>
<circle cx="299.1" cy="279.8" r="2.0" class="dp"/>
<circle cx="303.4" cy="297.5" r="2.0" class="dp"/>
<circle cx="301.5" cy="287.8" r="2.0" class="dp"/>
<circle cx="298.1" cy="287.3" r="2.0" class="dp"/>
<circle cx="299.4" cy="284.0" r="2.0" class="dp"/>
<circle cx="302.1" cy="297.5" r="2.0" class="dp"/>
<circle cx="302.4" cy="298.4" r="2.0" class="dp"/>
<circle cx="303.8" cy="296.9" r="2.0" class="dp"/>
<circle cx="299.8" cy="285.3" r="2.0" class="dp"/>
<circle cx="302.5" cy="292.5" r="2.0" class="dp"/>
<circle cx="303.2" cy="301.9" r="2.0" class="dp"/>
<circle cx="313.0" cy="304.7" r="2.0" class="dp"/>
<circle cx="305.2" cy="295.6" r="2.0" class="dp"/>
<circle cx="309.5" cy="287.6" r="2.0" class="dp"/>
<circle cx="313.2" cy="307.3" r="2.0" class="dp"/>
<circle cx="309.2" cy="283.8" r="2.0" class="dp"/>
<circle cx="311.3" cy="288.8" r="2.0" class="dp"/>
<circle cx="306.7" cy="279.6" r="2.0" class="dp"/>
<circle cx="310.5" cy="290.3" r="2.0" class="dp"/>
<circle cx="305.9" cy="286.2" r="2.0" class="dp"/>
<circle cx="312.3" cy="300.0" r="2.0" class="dp"/>
<circle cx="312.8" cy="299.8" r="2.0" class="dp"/>
<circle cx="306.5" cy="283.5" r="2.0" class="dp"/>
<circle cx="310.9" cy="300.4" r="2.0" class="dp"/>
<circle cx="315.9" cy="285.9" r="2.0" class="dp"/>
<circle cx="316.8" cy="286.4" r="2.0" class="dp"/>
<circle cx="318.8" cy="288.1" r="2.0" class="dp"/>
<circle cx="324.3" cy="300.5" r="2.0" class="dp"/>
<circle cx="323.0" cy="304.0" r="2.0" class="dp"/>
<circle cx="317.0" cy="285.7" r="2.0" class="dp"/>
<circle cx="317.7" cy="280.8" r="2.0" class="dp"/>
<circle cx="316.8" cy="284.3" r="2.0" class="dp"/>
<circle cx="316.7" cy="285.3" r="2.0" class="dp"/>
<circle cx="323.8" cy="298.2" r="2.0" class="dp"/>
<circle cx="316.9" cy="285.0" r="2.0" class="dp"/>
<circle cx="321.9" cy="296.1" r="2.0" class="dp"/>
<circle cx="322.1" cy="300.2" r="2.0" class="dp"/>
<circle cx="325.0" cy="303.2" r="2.0" class="dp"/>
<circle cx="329.5" cy="286.2" r="2.0" class="dp"/>
<circle cx="331.0" cy="287.4" r="2.0" class="dp"/>
<circle cx="327.4" cy="285.7" r="2.0" class="dp"/>
<circle cx="332.4" cy="299.9" r="2.0" class="dp"/>
<circle cx="326.7" cy="291.4" r="2.0" class="dp"/>
<circle cx="325.6" cy="297.9" r="2.0" class="dp"/>
<circle cx="325.6" cy="295.8" r="2.0" class="dp"/>
<circle cx="333.2" cy="307.8" r="2.0" class="dp"/>
<circle cx="329.8" cy="289.4" r="2.0" class="dp"/>
<circle cx="332.8" cy="301.3" r="2.0" class="dp"/>
<circle cx="331.4" cy="295.7" r="2.0" class="dp"/>
<circle cx="324.8" cy="306.3" r="2.0" class="dp"/>
<circle cx="343.2" cy="306.3" r="2.0" class="dp"/>
<circle cx="334.7" cy="305.7" r="2.0" class="dp"/>
<circle cx="340.5" cy="292.8" r="2.0" class="dp"/>
<circle cx="335.0" cy="302.0" r="2.0" class="dp"/>
<circle cx="340.2" cy="302.9" r="2.0" class="dp"/>
<circle cx="341.3" cy="295.1" r="2.0" class="dp"/>
<circle cx="339.5" cy="286.0" r="2.0" class="dp"/>
<circle cx="343.1" cy="302.5" r="2.0" class="dp"/>
<circle cx="341.7" cy="304.5" r="2.0" class="dp"/>
<circle cx="340.9" cy="287.2" r="2.0" class="dp"/>
<circle cx="337.8" cy="291.8" r="2.0" class="dp"/>
<circle cx="337.1" cy="297.2" r="2.0" class="dp"/>
<circle cx="353.7" cy="301.1" r="2.0" class="dp"/>
<circle cx="348.6" cy="290.2" r="2.0" class="dp"/>
<circle cx="350.4" cy="298.4" r="2.0" class="dp"/>
<circle cx="346.9" cy="305.4" r="2.0" class="dp"/>
<circle cx="345.6" cy="305.9" r="2.0" class="dp"/>
<circle cx="348.9" cy="292.9" r="2.0" class="dp"/>
<circle cx="345.8" cy="298.4" r="2.0" class="dp"/>
<circle cx="345.2" cy="302.1" r="2.0" class="dp"/>
<circle cx="347.3" cy="297.3" r="2.0" class="dp"/>
<circle cx="352.7" cy="304.6" r="2.0" class="dp"/>
<circle cx="353.6" cy="301.5" r="2.0" class="dp"/>
<circle cx="346.4" cy="298.4" r="2.0" class="dp"/>
<circle cx="351.9" cy="296.7" r="2.0" class="dp"/>
<circle cx="357.2" cy="296.7" r="2.0" class="dp"/>
<circle cx="356.3" cy="307.0" r="2.0" class="dp"/>
<circle cx="356.2" cy="297.0" r="2.0" class="dp"/>
<circle cx="356.2" cy="303.4" r="2.0" class="dp"/>
<circle cx="356.5" cy="302.6" r="2.0" class="dp"/>
<circle cx="357.0" cy="299.3" r="2.0" class="dp"/>
<circle cx="99.9" cy="241.7" r="2.0" class="dp"/>
<circle cx="97.3" cy="257.7" r="2.0" class="dp"/>
<circle cx="110.0" cy="254.0" r="2.0" class="dp"/>
<circle cx="99.7" cy="221.6" r="2.0" class="dp"/>
<circle cx="102.5" cy="235.6" r="2.0" class="dp"/>
<circle cx="104.0" cy="237.1" r="2.0" class="dp"/>
<circle cx="107.5" cy="232.4" r="2.0" class="dp"/>
<circle cx="45.0" cy="295.6" r="2.0" class="dp"/>
<circle cx="45.6" cy="290.6" r="2.0" class="dp"/>
<circle cx="57.9" cy="282.0" r="2.0" class="dp"/>
<circle cx="61.2" cy="284.2" r="2.0" class="dp"/>
<circle cx="62.2" cy="291.7" r="2.0" class="dp"/>
<circle cx="64.4" cy="295.0" r="2.0" class="dp"/>
<circle cx="66.1" cy="288.5" r="2.0" class="dp"/>
<circle cx="67.6" cy="286.3" r="2.0" class="dp"/>
<circle cx="70.8" cy="286.3" r="2.0" class="dp"/>
<circle cx="73.0" cy="274.0" r="2.0" class="dp"/>
<circle cx="73.0" cy="295.0" r="2.0" class="dp"/>
<circle cx="77.3" cy="292.8" r="2.0" class="dp"/>
<circle cx="78.4" cy="284.2" r="2.0" class="dp"/>
<circle cx="81.6" cy="274.0" r="2.0" class="dp"/>
<circle cx="82.3" cy="284.2" r="2.0" class="dp"/>
<circle cx="87.0" cy="295.0" r="2.0" class="dp"/>
<circle cx="88.7" cy="288.5" r="2.0" class="dp"/>
<circle cx="92.4" cy="295.0" r="2.0" class="dp"/>
<circle cx="93.5" cy="274.0" r="2.0" class="dp"/>
<circle cx="95.6" cy="284.8" r="2.0" class="dp"/>
<circle cx="367.5" cy="237.3" r="2.0" class="dp"/>
<circle cx="358.5" cy="247.9" r="2.0" class="dp"/>
<circle cx="361.2" cy="246.5" r="2.0" class="dp"/>
<circle cx="361.9" cy="248.6" r="2.0" class="dp"/>
<circle cx="359.2" cy="256.2" r="2.0" class="dp"/>
<circle cx="360.5" cy="257.6" r="2.0" class="dp"/>
<circle cx="366.8" cy="252.8" r="2.0" class="dp"/>
<circle cx="363.3" cy="259.7" r="2.0" class="dp"/>
<circle cx="368.9" cy="261.1" r="2.0" class="dp"/>
<circle cx="369.5" cy="264.5" r="2.0" class="dp"/>
<circle cx="371.6" cy="267.3" r="2.0" class="dp"/>
<circle cx="366.1" cy="266.6" r="2.0" class="dp"/>
<circle cx="363.3" cy="270.8" r="2.0" class="dp"/>
<circle cx="368.2" cy="269.4" r="2.0" class="dp"/>
<circle cx="364.0" cy="275.6" r="2.0" class="dp"/>
<circle cx="377.9" cy="267.3" r="2.0" class="dp"/>
<circle cx="377.2" cy="270.8" r="2.0" class="dp"/>
<circle cx="379.2" cy="273.6" r="2.0" class="dp"/>
<circle cx="374.4" cy="274.9" r="2.0" class="dp"/>
<circle cx="362.8" cy="270.5" r="2.0" class="dp"/>
<circle cx="364.2" cy="275.4" r="2.0" class="dp"/>
<circle cx="367.6" cy="267.8" r="2.0" class="dp"/>
<circle cx="371.8" cy="267.8" r="2.0" class="dp"/>
<circle cx="370.4" cy="273.3" r="2.0" class="dp"/>
<circle cx="372.5" cy="280.9" r="2.0" class="dp"/>
<circle cx="373.2" cy="283.7" r="2.0" class="dp"/>
<circle cx="376.6" cy="271.9" r="2.0" class="dp"/>
<circle cx="378.0" cy="267.1" r="2.0" class="dp"/>
<circle cx="378.7" cy="276.1" r="2.0" class="dp"/>
<circle cx="380.8" cy="285.8" r="2.0" class="dp"/>
<circle cx="380.8" cy="289.9" r="2.0" class="dp"/>
<circle cx="382.9" cy="287.9" r="2.0" class="dp"/>
<circle cx="384.9" cy="279.5" r="2.0" class="dp"/>
<circle cx="388.4" cy="278.2" r="2.0" class="dp"/>
<circle cx="389.8" cy="285.8" r="2.0" class="dp"/>
<circle cx="391.2" cy="288.5" r="2.0" class="dp"/>
<circle cx="393.2" cy="291.3" r="2.0" class="dp"/>
<circle cx="393.2" cy="293.4" r="2.0" class="dp"/>
<circle cx="388.4" cy="289.9" r="2.0" class="dp"/>
<path d="M45.36 290.15 L45.53 290.12 L45.70 290.04 L45.87 289.91 L46.04 289.72 L46.21 289.49 L46.37 289.22 L46.54 288.91 L46.71 288.57 L46.88 288.20 L47.05 287.81 L47.22 287.42 L47.39 287.02 L47.56 286.62 L47.73 286.23 L47.90 285.87 L48.07 285.53 L48.23 285.22 L48.40 284.94 L48.57 284.71 L48.74 284.53 L48.91 284.39 L49.08 284.31 L49.25 284.28 L49.42 284.31 L49.58 284.38 L49.75 284.49 L49.91 284.65 L50.08 284.85 L50.25 285.08 L50.41 285.36 L50.58 285.67 L50.74 286.01 L50.91 286.38 L51.08 286.77 L51.24 287.18 L51.41 287.60 L51.58 288.04 L51.74 288.47 L51.91 288.91 L52.07 289.35 L52.24 289.77 L52.41 290.18 L52.57 290.57 L52.74 290.94 L52.90 291.28 L53.07 291.59 L53.24 291.86 L53.40 292.10 L53.57 292.30 L53.74 292.46 L53.90 292.57 L54.07 292.64 L54.23 292.66 L54.40 292.64 L54.57 292.57 L54.73 292.46 L54.90 292.30 L55.06 292.10 L55.23 291.86 L55.40 291.59 L55.56 291.28 L55.73 290.94 L55.90 290.57 L56.06 290.18 L56.23 289.77 L56.39 289.35 L56.56 288.91 L56.73 288.47 L56.89 288.04 L57.06 287.60 L57.22 287.18 L57.39 286.77 L57.56 286.38 L57.72 286.01 L57.89 285.67 L58.06 285.36 L58.22 285.08 L58.39 284.85 L58.55 284.65 L58.72 284.49 L58.89 284.38 L59.05 284.31 L59.22 284.28 L59.39 284.31 L59.55 284.38 L59.72 284.49 L59.88 284.65 L60.05 284.85 L60.22 285.08 L60.38 285.36 L60.55 285.67 L60.71 286.01 L60.88 286.38 L61.05 286.77 L61.21 287.18 L61.38 287.60 L61.55 288.04 L61.71 288.47 L61.88 288.91 L62.04 289.35 L62.21 289.77 L62.38 290.18 L62.54 290.57 L62.71 290.94 L62.87 291.28 L63.04 291.59 L63.21 291.86 L63.37 292.10 L63.54 292.30 L63.71 292.46 L63.87 292.57 L64.04 292.64 L64.20 292.66 L64.37 292.64 L64.54 292.57 L64.70 292.46 L64.87 292.30 L65.03 292.10 L65.20 291.86 L65.37 291.59 L65.53 291.28 L65.70 290.94 L65.87 290.57 L66.03 290.18 L66.20 289.77 L66.36 289.35 L66.53 288.91 L66.70 288.47 L66.86 288.04 L67.03 287.60 L67.19 287.18 L67.36 286.77 L67.53 286.38 L67.69 286.01 L67.86 285.67 L68.03 285.36 L68.19 285.08 L68.36 284.85 L68.52 284.65 L68.69 284.49 L68.86 284.38 L69.02 284.31 L69.19 284.28 L69.36 284.31 L69.52 284.38 L69.69 284.49 L69.85 284.65 L70.02 284.85 L70.19 285.08 L70.35 285.36 L70.52 285.67 L70.68 286.01 L70.85 286.38 L71.02 286.77 L71.18 287.18 L71.35 287.60 L71.52 288.04 L71.68 288.47 L71.85 288.91 L72.01 289.35 L72.18 289.77 L72.35 290.18 L72.51 290.57 L72.68 290.94 L72.84 291.28 L73.01 291.59 L73.18 291.86 L73.34 292.10 L73.51 292.30 L73.68 292.46 L73.84 292.57 L74.01 292.64 L74.17 292.66 L74.34 292.64 L74.51 292.57 L74.67 292.46 L74.84 292.30 L75.00 292.10 L75.17 291.86 L75.34 291.59 L75.50 291.28 L75.67 290.94 L75.84 290.57 L76.00 290.18 L76.17 289.77 L76.33 289.35 L76.50 288.91 L76.67 288.47 L76.83 288.04 L77.00 287.60 L77.16 287.18 L77.33 286.77 L77.50 286.38 L77.66 286.01 L77.83 285.67 L78.00 285.36 L78.16 285.08 L78.33 284.85 L78.49 284.65 L78.66 284.49 L78.83 284.38 L78.99 284.31 L79.16 284.28 L79.33 284.31 L79.49 284.38 L79.66 284.49 L79.82 284.65 L79.99 284.85 L80.16 285.08 L80.32 285.36 L80.49 285.67 L80.65 286.01 L80.82 286.38 L80.99 286.77 L81.15 287.18 L81.32 287.60 L81.49 288.04 L81.65 288.47 L81.82 288.91 L81.98 289.35 L82.15 289.77 L82.32 290.18 L82.48 290.57 L82.65 290.94 L82.81 291.28 L82.98 291.59 L83.15 291.86 L83.31 292.10 L83.48 292.30 L83.65 292.46 L83.81 292.57 L83.98 292.64 L84.14 292.66 L84.31 292.64 L84.48 292.57 L84.64 292.46 L84.81 292.30 L84.97 292.10 L85.14 291.86 L85.31 291.59 L85.47 291.28 L85.64 290.94 L85.81 290.57 L85.97 290.18 L86.14 289.77 L86.30 289.35 L86.47 288.91 L86.64 288.47 L86.80 288.04 L86.97 287.60 L87.13 287.18 L87.30 286.77 L87.47 286.38 L87.63 286.01 L87.80 285.67 L87.97 285.36 L88.13 285.08 L88.30 284.85 L88.46 284.65 L88.63 284.49 L88.80 284.38 L88.96 284.31 L89.13 284.28 L89.30 284.31 L89.46 284.38 L89.63 284.49 L89.79 284.65 L89.96 284.85 L90.13 285.08 L90.29 285.36 L90.46 285.67 L90.62 286.01 L90.79 286.38 L90.96 286.77 L91.12 287.18 L91.29 287.60 L91.46 288.04 L91.62 288.47 L91.79 288.91 L91.95 289.35 L92.12 289.77 L92.29 290.18 L92.45 290.57 L92.62 290.94 L92.78 291.28 L92.95 291.59 L93.12 291.86 L93.28 292.10 L93.45 292.30 L93.62 292.46 L93.78 292.57 L93.95 292.64 L94.11 292.66 L94.28 292.63 L94.45 292.55 L94.62 292.40 L94.78 292.20 L94.95 291.95 L95.12 291.65 L95.29 291.32 L95.46 290.95 L95.62 290.56 L95.79 290.15 L95.96 289.73 L96.13 289.31 L96.29 288.90 L96.46 288.51 L96.63 288.15 L96.80 287.81 L96.96 287.51 L97.13 287.26 L97.30 287.06 L97.47 286.92 L97.64 286.83 L97.80 286.80 M98.20 242.38 L98.37 242.41 L98.54 242.49 L98.70 242.62 L98.87 242.80 L99.04 243.04 L99.20 243.32 L99.37 243.65 L99.54 244.02 L99.70 244.44 L99.87 244.90 L100.04 245.40 L100.21 245.92 L100.37 246.49 L100.54 247.07 L100.71 247.69 L100.87 248.32 L101.04 248.97 L101.21 249.63 L101.37 250.30 L101.54 250.97 L101.71 251.65 L101.88 252.32 L102.04 252.98 L102.21 253.63 L102.38 254.26 L102.54 254.87 L102.71 255.46 L102.88 256.02 L103.04 256.55 L103.21 257.05 L103.38 257.51 L103.55 257.92 L103.71 258.30 L103.88 258.63 L104.05 258.91 L104.21 259.14 L104.38 259.33 L104.55 259.46 L104.71 259.54 L104.88 259.56 L105.05 259.53 L105.22 259.42 L105.40 259.23 L105.57 258.98 L105.74 258.66 L105.91 258.27 L106.08 257.82 L106.26 257.31 L106.43 256.74 L106.60 256.12 L106.77 255.45 L106.94 254.74 L107.11 254.00 L107.29 253.22 L107.46 252.42 L107.63 251.60 L107.80 250.77 L107.97 249.93 L108.14 250.46 L108.31 251.00 L108.48 251.54 L108.64 252.07 L108.81 252.60 L108.98 253.13 L109.15 253.66 L109.31 254.18 L109.48 254.69 L109.65 255.20 L109.82 255.70 L109.98 256.19 L110.15 256.68 L110.32 257.15 L110.49 257.62 L110.66 258.08 L110.82 258.53 L110.99 258.97 L111.16 259.39 L111.33 259.80 L111.49 260.20 L111.66 260.59 L111.83 260.97 L112.00 261.33 L112.16 261.67 L112.33 262.00 L112.50 262.32 L112.67 262.62 L112.83 262.90 L113.00 263.16 L113.17 263.41 L113.34 263.65 L113.51 263.86 L113.67 264.06 L113.84 264.24 L114.01 264.40 L114.18 264.54 L114.34 264.67 L114.51 264.77 L114.68 264.86 L114.85 264.92 L115.01 264.97 L115.18 265.00 L115.35 265.01 L115.52 264.96 L115.70 264.82 L115.87 264.58 L116.05 264.24 L116.22 263.82 L116.40 263.32 L116.57 262.73 L116.75 262.06 L116.92 261.33 L117.09 260.54 L117.27 259.69 L117.44 258.80 L117.62 257.87 L117.79 256.92 L117.97 255.94 L118.14 254.95 L118.31 255.47 L118.48 255.99 L118.65 256.50 L118.82 257.01 L118.98 257.52 L119.15 258.03 L119.32 258.53 L119.49 259.03 L119.66 259.52 L119.83 260.01 L120.00 260.48 L120.16 260.95 L120.33 261.41 L120.50 261.87 L120.67 262.31 L120.84 262.74 L121.01 263.16 L121.18 263.57 L121.34 263.97 L121.51 264.36 L121.68 264.73 L121.85 265.09 L122.02 265.43 L122.19 265.76 L122.36 266.08 L122.52 266.38 L122.69 266.66 L122.86 266.93 L123.03 267.18 L123.20 267.41 L123.37 267.63 L123.53 267.83 L123.70 268.01 L123.87 268.17 L124.04 268.31 L124.21 268.43 L124.38 268.54 L124.55 268.63 L124.71 268.69 L124.88 268.74 L125.05 268.77 L125.22 268.78 L125.39 268.73 L125.55 268.56 L125.72 268.29 L125.88 267.91 L126.05 267.43 L126.22 266.86 L126.38 266.20 L126.55 265.45 L126.72 264.64 L126.88 263.75 L127.05 262.82 L127.21 261.83 L127.38 260.82 L127.55 259.78 L127.71 258.73 L127.88 259.21 L128.05 259.70 L128.22 260.18 L128.39 260.66 L128.56 261.14 L128.72 261.62 L128.89 262.09 L129.06 262.55 L129.23 263.01 L129.40 263.47 L129.57 263.92 L129.74 264.36 L129.90 264.79 L130.07 265.22 L130.24 265.64 L130.41 266.04 L130.58 266.44 L130.75 266.82 L130.92 267.20 L131.08 267.56 L131.25 267.91 L131.42 268.25 L131.59 268.57 L131.76 268.88 L131.93 269.18 L132.09 269.46 L132.26 269.72 L132.43 269.97 L132.60 270.21 L132.77 270.43 L132.94 270.63 L133.11 270.82 L133.27 270.99 L133.44 271.14 L133.61 271.27 L133.78 271.39 L133.95 271.49 L134.12 271.57 L134.29 271.63 L134.45 271.68 L134.62 271.70 L134.79 271.71 L134.96 271.67 L135.13 271.55 L135.30 271.35 L135.46 271.08 L135.63 270.72 L135.80 270.30 L135.97 269.81 L136.14 269.26 L136.31 268.65 L136.47 267.99 L136.64 267.28 L136.81 266.54 L136.98 265.77 L137.15 264.97 L137.32 264.16 L137.48 263.33 L137.65 263.81 L137.82 264.29 L137.99 264.76 L138.16 265.23 L138.33 265.70 L138.50 266.17 L138.67 266.63 L138.84 267.09 L139.01 267.54 L139.18 267.98 L139.35 268.42 L139.52 268.85 L139.69 269.27 L139.86 269.68 L140.03 270.08 L140.20 270.48 L140.36 270.86 L140.53 271.23 L140.70 271.58 L140.87 271.93 L141.04 272.26 L141.21 272.57 L141.38 272.88 L141.55 273.16 L141.72 273.44 L141.89 273.69 L142.06 273.94 L142.23 274.16 L142.40 274.37 L142.57 274.56 L142.74 274.73 L142.91 274.89 L143.08 275.03 L143.25 275.15 L143.42 275.25 L143.59 275.34 L143.75 275.40 L143.92 275.45 L144.09 275.48 L144.26 275.49 L144.43 275.44 L144.60 275.30 L144.76 275.07 L144.93 274.76 L145.09 274.36 L145.26 273.88 L145.43 273.33 L145.59 272.71 L145.76 272.03 L145.92 271.30 L146.09 270.51 L146.26 269.69 L146.42 268.85 L146.59 267.98 L146.76 267.11 L146.92 267.51 L147.09 267.92 L147.25 268.33 L147.42 268.74 L147.59 269.14 L147.75 269.54 L147.92 269.94 L148.08 270.34 L148.25 270.73 L148.42 271.12 L148.58 271.50 L148.75 271.88 L148.92 272.25 L149.08 272.61 L149.25 272.97 L149.41 273.32 L149.58 273.67 L149.75 274.00 L149.91 274.33 L150.08 274.65 L150.25 274.96 L150.41 275.25 L150.58 275.54 L150.74 275.82 L150.91 276.09 L151.08 276.35 L151.24 276.60 L151.41 276.83 L151.57 277.05 L151.74 277.27 L151.91 277.46 L152.07 277.65 L152.24 277.82 L152.41 277.98 L152.57 278.13 L152.74 278.26 L152.90 278.38 L153.07 278.49 L153.24 278.58 L153.40 278.66 L153.57 278.72 L153.73 278.77 L153.90 278.81 L154.07 278.83 L154.23 278.84 L154.40 278.80 L154.57 278.68 L154.74 278.48 L154.91 278.20 L155.07 277.85 L155.24 277.42 L155.41 276.93 L155.58 276.38 L155.75 275.77 L155.92 275.11 L156.08 274.41 L156.25 273.66 L156.42 272.89 L156.59 272.09 L156.76 271.28 L156.92 270.46 L157.09 270.97 L157.26 271.48 L157.43 271.98 L157.60 272.49 L157.77 272.99 L157.94 273.49 L158.11 273.98 L158.28 274.47 L158.45 274.95 L158.62 275.43 L158.79 275.89 L158.96 276.35 L159.13 276.80 L159.30 277.24 L159.47 277.67 L159.64 278.09 L159.81 278.50 L159.98 278.89 L160.15 279.27 L160.31 279.64 L160.48 280.00 L160.65 280.33 L160.82 280.66 L160.99 280.97 L161.16 281.26 L161.33 281.53 L161.50 281.79 L161.67 282.03 L161.84 282.25 L162.01 282.46 L162.18 282.64 L162.35 282.81 L162.52 282.96 L162.69 283.09 L162.86 283.20 L163.03 283.29 L163.20 283.36 L163.37 283.41 L163.54 283.44 L163.70 283.45 L163.87 283.42 L164.04 283.33 L164.20 283.17 L164.37 282.97 L164.54 282.70 L164.70 282.38 L164.87 282.01 L165.03 281.58 L165.20 281.11 L165.37 280.60 L165.53 280.05 L165.70 279.47 L165.86 278.85 L166.03 278.21 L166.20 277.55 L166.36 276.87 L166.53 276.18 L166.70 275.49 L166.86 276.04 L167.03 276.60 L167.20 277.15 L167.37 277.70 L167.54 278.25 L167.71 278.80 L167.87 279.34 L168.04 279.87 L168.21 280.41 L168.38 280.93 L168.55 281.45 L168.72 281.96 L168.88 282.46 L169.05 282.96 L169.22 283.45 L169.39 283.92 L169.56 284.39 L169.73 284.84 L169.89 285.29 L170.06 285.72 L170.23 286.14 L170.40 286.55 L170.57 286.94 L170.74 287.32 L170.91 287.68 L171.07 288.03 L171.24 288.37 L171.41 288.68 L171.58 288.99 L171.75 289.27 L171.92 289.54 L172.08 289.80 L172.25 290.03 L172.42 290.25 L172.59 290.45 L172.76 290.63 L172.93 290.79 L173.09 290.93 L173.26 291.06 L173.43 291.17 L173.60 291.25 L173.77 291.32 L173.94 291.37 L174.10 291.40 L174.27 291.41 L174.44 291.37 L174.61 291.27 L174.78 291.11 L174.95 290.87 L175.12 290.58 L175.29 290.22 L175.46 289.80 L175.63 289.33 L175.80 288.80 L175.97 288.22 L176.14 287.59 L176.31 286.92 L176.48 286.21 L176.65 285.46 L176.82 284.68 L176.98 283.88 L177.15 283.06 L177.32 282.22 L177.49 281.37 L177.66 280.51 L177.83 281.12 L178.00 281.73 L178.17 282.34 L178.33 282.94 L178.50 283.54 L178.67 284.14 L178.84 284.73 L179.00 285.32 L179.17 285.89 L179.34 286.46 L179.51 287.03 L179.68 287.58 L179.84 288.12 L180.01 288.65 L180.18 289.17 L180.35 289.67 L180.51 290.17 L180.68 290.64 L180.85 291.11 L181.02 291.55 L181.19 291.99 L181.35 292.40 L181.52 292.80 L181.69 293.18 L181.86 293.54 L182.02 293.88 L182.19 294.20 L182.36 294.50 L182.53 294.78 L182.70 295.04 L182.86 295.28 L183.03 295.50 L183.20 295.69 L183.37 295.87 L183.54 296.02 L183.70 296.14 L183.87 296.25 L184.04 296.33 L184.21 296.39 L184.37 296.42 L184.54 296.44 L184.71 296.40 L184.88 296.31 L185.05 296.15 L185.22 295.92 L185.39 295.64 L185.56 295.29 L185.73 294.89 L185.90 294.43 L186.07 293.93 L186.24 293.37 L186.41 292.76 L186.58 292.12 L186.75 291.43 L186.91 290.72 L187.08 289.97 L187.25 289.20 L187.42 288.41 L187.59 287.60 L187.76 286.78 L187.93 285.96 L188.10 286.50 L188.27 287.04 L188.44 287.59 L188.61 288.12 L188.78 288.66 L188.95 289.19 L189.12 289.71 L189.29 290.23 L189.46 290.75 L189.63 291.25 L189.80 291.75 L189.97 292.24 L190.13 292.72 L190.30 293.18 L190.47 293.64 L190.64 294.09 L190.81 294.52 L190.98 294.94 L191.15 295.35 L191.32 295.74 L191.49 296.11 L191.66 296.47 L191.83 296.82 L192.00 297.15 L192.17 297.46 L192.34 297.75 L192.51 298.02 L192.68 298.28 L192.85 298.52 L193.02 298.73 L193.19 298.93 L193.36 299.11 L193.52 299.27 L193.69 299.40 L193.86 299.52 L194.03 299.62 L194.20 299.69 L194.37 299.74 L194.54 299.78 L194.71 299.79 L194.88 299.73 L195.04 299.57 L195.21 299.29 L195.38 298.92 L195.54 298.44 L195.71 297.87 L195.87 297.20 L196.04 296.46 L196.21 295.64 L196.37 294.76 L196.54 293.82 L196.71 292.84 L196.87 291.82 L197.04 290.78 L197.20 289.73 L197.37 290.26 L197.54 290.78 L197.71 291.31 L197.88 291.83 L198.05 292.35 L198.21 292.87 L198.38 293.38 L198.55 293.89 L198.72 294.39 L198.89 294.89 L199.06 295.38 L199.22 295.87 L199.39 296.34 L199.56 296.81 L199.73 297.27 L199.90 297.72 L200.07 298.17 L200.23 298.60 L200.40 299.02 L200.57 299.43 L200.74 299.82 L200.91 300.21 L201.08 300.58 L201.24 300.94 L201.41 301.29 L201.58 301.62 L201.75 301.93 L201.92 302.24 L202.09 302.52 L202.26 302.79 L202.42 303.05 L202.59 303.29 L202.76 303.51 L202.93 303.72 L203.10 303.91 L203.27 304.08 L203.43 304.23 L203.60 304.37 L203.77 304.49 L203.94 304.59 L204.11 304.67 L204.28 304.73 L204.44 304.78 L204.61 304.81 L204.78 304.81 L204.95 304.77 L205.12 304.65 L205.30 304.45 L205.47 304.17 L205.64 303.81 L205.81 303.40 L205.98 302.92 L206.15 302.38 L206.32 301.81 L206.50 301.20 L206.67 300.56 L206.84 299.91 L207.01 299.25 L207.18 298.60 L207.35 297.96 L207.52 297.35 L207.70 296.77 L207.87 296.24 L208.04 295.76 L208.21 295.34 L208.38 294.99 L208.55 294.71 L208.73 294.50 L208.90 294.38 L209.07 294.34 M209.47 275.90 L209.64 275.97 L209.81 276.15 L209.98 276.46 L210.15 276.88 L210.32 277.42 L210.49 278.06 L210.66 278.80 L210.83 279.62 L211.00 280.51 L211.17 281.47 L211.34 282.48 L211.51 283.52 L211.67 284.59 L211.84 285.66 L212.01 286.72 L212.18 287.77 L212.35 288.77 L212.52 289.73 L212.69 290.63 L212.86 291.45 L213.03 292.18 L213.20 292.82 L213.37 293.36 L213.54 293.78 L213.71 294.09 L213.88 294.28 L214.05 294.34 L214.22 294.29 L214.39 294.13 L214.57 293.87 L214.74 293.51 L214.91 293.06 L215.08 292.51 L215.25 291.89 L215.42 291.18 L215.59 290.42 L215.76 289.60 L215.93 288.73 L216.10 287.82 L216.27 286.90 L216.45 285.96 L216.62 285.02 L216.79 284.10 L216.96 283.19 L217.13 282.32 L217.30 281.50 L217.47 280.74 L217.64 280.03 L217.81 279.41 L217.98 278.86 L218.15 278.41 L218.33 278.05 L218.50 277.79 L218.67 277.63 L218.84 277.58 L219.01 277.63 L219.18 277.80 L219.34 278.06 L219.51 278.43 L219.68 278.90 L219.85 279.46 L220.02 280.11 L220.19 280.83 L220.35 281.62 L220.52 282.48 L220.69 283.39 L220.86 284.33 L221.03 285.31 L221.20 286.30 L221.37 287.30 L221.53 288.29 L221.70 289.26 L221.87 290.21 L222.04 291.12 L222.21 291.97 L222.38 292.77 L222.54 293.49 L222.71 294.14 L222.88 294.70 L223.05 295.16 L223.22 295.53 L223.39 295.80 L223.56 295.96 L223.72 296.02 L223.89 295.96 L224.06 295.80 L224.23 295.54 L224.40 295.17 L224.57 294.71 L224.74 294.15 L224.91 293.52 L225.08 292.81 L225.25 292.04 L225.42 291.21 L225.59 290.34 L225.76 289.44 L225.93 288.52 L226.10 287.59 L226.27 286.67 L226.44 285.77 L226.61 284.90 L226.78 284.07 L226.95 283.30 L227.12 282.59 L227.29 281.96 L227.46 281.40 L227.63 280.94 L227.80 280.57 L227.97 280.31 L228.14 280.15 L228.31 280.09 L228.48 280.14 L228.64 280.29 L228.81 280.52 L228.97 280.85 L229.14 281.27 L229.31 281.77 L229.47 282.35 L229.64 283.01 L229.81 283.72 L229.97 284.49 L230.14 285.31 L230.30 286.17 L230.47 287.06 L230.64 287.97 L230.80 288.89 L230.97 289.81 L231.13 290.72 L231.30 291.61 L231.47 292.47 L231.63 293.29 L231.80 294.06 L231.97 294.78 L232.13 295.43 L232.30 296.01 L232.46 296.51 L232.63 296.93 L232.80 297.26 L232.96 297.50 L233.13 297.64 L233.30 297.69 L233.46 297.64 L233.63 297.49 L233.80 297.25 L233.96 296.90 L234.13 296.47 L234.30 295.96 L234.47 295.36 L234.63 294.69 L234.80 293.97 L234.97 293.19 L235.14 292.36 L235.30 291.50 L235.47 290.62 L235.64 289.73 L235.81 288.84 L235.97 287.96 L236.14 287.10 L236.31 286.28 L236.47 285.50 L236.64 284.77 L236.81 284.10 L236.98 283.51 L237.14 282.99 L237.31 282.56 L237.48 282.22 L237.65 281.97 L237.81 281.82 L237.98 281.77 L238.15 281.81 L238.32 281.94 L238.50 282.14 L238.67 282.42 L238.84 282.78 L239.01 283.22 L239.18 283.72 L239.35 284.29 L239.52 284.91 L239.69 285.59 L239.87 286.31 L240.04 287.07 L240.21 287.87 L240.38 288.68 L240.55 289.52 L240.72 290.36 L240.89 291.20 L241.07 292.04 L241.24 292.85 L241.41 293.65 L241.58 294.41 L241.75 295.13 L241.92 295.81 L242.09 296.43 L242.26 297.00 L242.44 297.50 L242.61 297.93 L242.78 298.30 L242.95 298.58 L243.12 298.78 L243.29 298.91 L243.46 298.95 L243.63 298.92 L243.80 298.82 L243.96 298.66 L244.13 298.44 L244.30 298.16 L244.46 297.82 L244.63 297.43 L244.79 296.98 L244.96 296.49 L245.13 295.96 L245.29 295.39 L245.46 294.79 L245.62 294.16 L245.79 293.51 L245.96 292.84 L246.12 292.16 L246.29 291.49 L246.46 290.81 L246.62 290.15 L246.79 289.50 L246.95 288.87 L247.12 288.26 L247.29 287.69 L247.45 287.16 L247.62 286.67 L247.78 286.23 L247.95 285.83 L248.12 285.49 L248.28 285.21 L248.45 284.99 L248.62 284.83 L248.78 284.74 L248.95 284.70 L249.12 284.75 L249.28 284.87 L249.45 285.09 L249.62 285.38 L249.78 285.76 L249.95 286.21 L250.12 286.72 L250.29 287.31 L250.45 287.95 L250.62 288.65 L250.79 289.39 L250.95 290.17 L251.12 290.98 L251.29 291.81 L251.46 292.66 L251.62 293.51 L251.79 294.35 L251.96 295.18 L252.13 295.99 L252.29 296.77 L252.46 297.52 L252.63 298.21 L252.79 298.86 L252.96 299.44 L253.13 299.96 L253.30 300.41 L253.46 300.78 L253.63 301.08 L253.80 301.29 L253.97 301.42 L254.13 301.46 L254.30 301.42 L254.47 301.30 L254.64 301.10 L254.81 300.83 L254.98 300.48 L255.15 300.06 L255.32 299.58 L255.49 299.04 L255.66 298.44 L255.83 297.80 L256.00 297.11 L256.17 296.40 L256.34 295.66 L256.51 294.90 L256.67 294.13 L256.84 293.36 L257.01 292.61 L257.18 291.86 L257.35 291.15 L257.52 290.46 L257.69 289.82 L257.86 289.22 L258.03 288.68 L258.20 288.20 L258.37 287.78 L258.54 287.43 L258.71 287.16 L258.88 286.96 L259.05 286.84 L259.22 286.80 L259.38 286.84 L259.55 286.97 L259.72 287.17 L259.89 287.46 L260.05 287.82 L260.22 288.26 L260.39 288.77 L260.56 289.34 L260.72 289.97 L260.89 290.65 L261.06 291.37 L261.22 292.13 L261.39 292.92 L261.56 293.73 L261.73 294.55 L261.89 295.38 L262.06 296.21 L262.23 297.02 L262.39 297.81 L262.56 298.57 L262.73 299.29 L262.90 299.97 L263.06 300.60 L263.23 301.17 L263.40 301.67 L263.57 302.11 L263.73 302.48 L263.90 302.76 L264.07 302.97 L264.23 303.10 L264.40 303.14 L264.57 303.06 L264.74 302.84 L264.92 302.47 L265.09 301.96 L265.26 301.34 L265.43 300.62 L265.60 299.83 L265.78 298.98 L265.95 298.11 L266.12 297.24 L266.29 296.39 L266.46 295.60 L266.63 294.88 L266.81 294.26 L266.98 293.76 L267.15 293.39 L267.32 293.16 L267.49 293.08 M267.89 275.49 L268.06 275.49 L268.22 275.51 L268.39 275.55 L268.56 275.59 L268.72 275.65 L268.89 275.72 L269.05 275.80 L269.22 275.88 L269.39 275.97 L269.55 276.07 L269.72 276.16 L269.88 276.25 L270.05 276.34 L270.22 276.43 L270.38 276.51 L270.55 276.57 L270.72 276.63 L270.88 276.68 L271.05 276.71 L271.21 276.73 L271.38 276.74 L271.55 276.79 L271.72 276.92 L271.89 277.14 L272.06 277.44 L272.22 277.82 L272.39 278.27 L272.56 278.79 L272.73 279.37 L272.90 279.99 L273.07 280.66 L273.24 281.36 L273.41 282.09 L273.57 282.82 L273.74 283.55 L273.91 284.27 L274.08 284.97 L274.25 285.64 L274.42 286.27 L274.59 286.85 L274.75 287.37 L274.92 287.82 L275.09 288.20 L275.26 288.50 L275.43 288.72 L275.60 288.85 L275.77 288.89 L275.94 288.83 L276.11 288.66 L276.28 288.37 L276.45 287.98 L276.62 287.49 L276.79 286.92 L276.96 286.27 L277.13 285.57 L277.31 284.82 L277.48 284.05 L277.65 283.26 L277.82 282.49 L277.99 281.74 L278.16 281.04 L278.33 280.39 L278.50 279.82 L278.67 279.33 L278.84 278.94 L279.01 278.65 L279.19 278.48 L279.36 278.42 L279.52 278.45 L279.69 278.55 L279.86 278.71 L280.03 278.93 L280.19 279.21 L280.36 279.54 L280.53 279.93 L280.69 280.37 L280.86 280.86 L281.03 281.38 L281.20 281.94 L281.36 282.52 L281.53 283.13 L281.70 283.75 L281.87 284.38 L282.03 285.02 L282.20 285.65 L282.37 286.28 L282.53 286.89 L282.70 287.47 L282.87 288.03 L283.04 288.55 L283.20 289.03 L283.37 289.47 L283.54 289.86 L283.70 290.20 L283.87 290.48 L284.04 290.70 L284.21 290.86 L284.37 290.96 L284.54 290.99 L284.72 290.92 L284.89 290.71 L285.06 290.37 L285.24 289.91 L285.41 289.33 L285.59 288.66 L285.76 287.90 L285.94 287.08 L286.11 286.22 L286.29 285.33 L286.46 284.45 L286.63 283.58 L286.81 282.76 L286.98 282.01 L287.16 281.33 L287.33 280.76 L287.51 280.29 L287.68 279.95 L287.86 279.74 L288.03 279.68 L288.20 279.71 L288.37 279.80 L288.54 279.95 L288.71 280.17 L288.88 280.44 L289.05 280.77 L289.22 281.16 L289.39 281.59 L289.56 282.07 L289.73 282.59 L289.90 283.15 L290.07 283.74 L290.24 284.36 L290.41 285.00 L290.58 285.66 L290.75 286.33 L290.92 287.01 L291.09 287.68 L291.26 288.35 L291.43 289.01 L291.60 289.66 L291.77 290.28 L291.94 290.87 L292.11 291.43 L292.28 291.95 L292.45 292.43 L292.62 292.86 L292.79 293.24 L292.96 293.57 L293.13 293.84 L293.30 294.06 L293.47 294.22 L293.64 294.31 L293.81 294.34 L293.98 294.30 L294.15 294.19 L294.32 294.01 L294.49 293.76 L294.66 293.44 L294.83 293.06 L295.00 292.62 L295.17 292.12 L295.34 291.58 L295.51 290.99 L295.68 290.36 L295.85 289.71 L296.02 289.03 L296.19 288.34 L296.36 287.64 L296.52 286.94 L296.69 286.24 L296.86 285.56 L297.03 284.91 L297.20 284.28 L297.37 283.70 L297.54 283.15 L297.71 282.65 L297.88 282.21 L298.05 281.83 L298.22 281.51 L298.39 281.26 L298.56 281.08 L298.73 280.97 L298.90 280.93 L299.07 280.98 L299.24 281.11 L299.41 281.32 L299.58 281.62 L299.75 282.00 L299.91 282.45 L300.08 282.98 L300.25 283.57 L300.42 284.21 L300.59 284.91 L300.76 285.65 L300.93 286.43 L301.10 287.24 L301.27 288.06 L301.44 288.89 L301.61 289.73 L301.78 290.55 L301.95 291.35 L302.12 292.13 L302.29 292.87 L302.46 293.57 L302.63 294.22 L302.80 294.81 L302.97 295.33 L303.13 295.79 L303.30 296.17 L303.47 296.46 L303.64 296.68 L303.81 296.81 L303.98 296.85 L304.15 296.80 L304.33 296.64 L304.50 296.37 L304.67 296.00 L304.84 295.53 L305.01 294.98 L305.18 294.35 L305.35 293.64 L305.53 292.88 L305.70 292.08 L305.87 291.24 L306.04 290.37 L306.21 289.51 L306.38 288.65 L306.55 287.80 L306.73 287.00 L306.90 286.24 L307.07 285.53 L307.24 284.90 L307.41 284.35 L307.58 283.88 L307.76 283.51 L307.93 283.24 L308.10 283.08 L308.27 283.03 L308.44 283.09 L308.61 283.29 L308.78 283.62 L308.96 284.06 L309.13 284.63 L309.30 285.30 L309.47 286.07 L309.64 286.92 L309.81 287.84 L309.98 288.82 L310.16 289.84 L310.33 290.88 L310.50 291.93 L310.67 292.98 L310.84 294.00 L311.01 294.98 L311.18 295.90 L311.36 296.75 L311.53 297.52 L311.70 298.19 L311.87 298.75 L312.04 299.20 L312.21 299.52 L312.39 299.72 L312.56 299.79 L312.72 299.74 L312.89 299.61 L313.06 299.40 L313.23 299.10 L313.39 298.73 L313.56 298.28 L313.73 297.76 L313.90 297.18 L314.06 296.55 L314.23 295.87 L314.40 295.16 L314.56 294.41 L314.73 293.65 L314.90 292.87 L315.07 292.10 L315.23 291.34 L315.40 290.59 L315.57 289.87 L315.74 289.20 L315.90 288.56 L316.07 287.98 L316.24 287.47 L316.41 287.02 L316.57 286.64 L316.74 286.35 L316.91 286.13 L317.08 286.00 L317.24 285.96 L317.41 285.99 L317.57 286.07 L317.74 286.20 L317.91 286.39 L318.07 286.63 L318.24 286.92 L318.41 287.26 L318.57 287.64 L318.74 288.07 L318.90 288.53 L319.07 289.04 L319.24 289.58 L319.40 290.15 L319.57 290.75 L319.74 291.37 L319.90 292.01 L320.07 292.66 L320.23 293.33 L320.40 294.00 L320.57 294.68 L320.73 295.35 L320.90 296.02 L321.06 296.67 L321.23 297.31 L321.40 297.93 L321.56 298.53 L321.73 299.10 L321.90 299.64 L322.06 300.15 L322.23 300.61 L322.39 301.04 L322.56 301.42 L322.73 301.76 L322.89 302.05 L323.06 302.29 L323.22 302.48 L323.39 302.61 L323.56 302.69 L323.72 302.72 L323.89 302.68 L324.06 302.55 L324.22 302.33 L324.39 302.03 L324.55 301.65 L324.72 301.20 L324.89 300.68 L325.05 300.09 L325.22 299.44 L325.38 298.74 L325.55 298.00 L325.72 297.22 L325.88 296.41 L326.05 295.59 L326.22 294.76 L326.38 293.93 L326.55 293.10 L326.71 292.30 L326.88 291.52 L327.05 290.78 L327.21 290.08 L327.38 289.43 L327.54 288.84 L327.71 288.32 L327.88 287.86 L328.04 287.49 L328.21 287.19 L328.38 286.97 L328.54 286.84 L328.71 286.80 L328.88 286.85 L329.05 286.99 L329.22 287.22 L329.39 287.54 L329.56 287.95 L329.72 288.44 L329.89 289.00 L330.06 289.64 L330.23 290.34 L330.40 291.09 L330.57 291.89 L330.74 292.73 L330.91 293.60 L331.08 294.49 L331.25 295.39 L331.42 296.29 L331.59 297.17 L331.76 298.04 L331.93 298.88 L332.10 299.68 L332.27 300.44 L332.44 301.13 L332.61 301.77 L332.78 302.34 L332.95 302.83 L333.11 303.23 L333.28 303.56 L333.45 303.79 L333.62 303.93 L333.79 303.98 L333.96 303.94 L334.13 303.84 L334.30 303.66 L334.47 303.42 L334.64 303.11 L334.81 302.74 L334.98 302.31 L335.15 301.83 L335.32 301.30 L335.49 300.73 L335.66 300.12 L335.83 299.49 L336.00 298.83 L336.17 298.16 L336.34 297.48 L336.50 296.80 L336.67 296.13 L336.84 295.48 L337.01 294.84 L337.18 294.24 L337.35 293.67 L337.52 293.14 L337.69 292.66 L337.86 292.23 L338.03 291.86 L338.20 291.55 L338.37 291.31 L338.54 291.13 L338.71 291.02 L338.88 290.99 L339.04 291.03 L339.21 291.16 L339.38 291.38 L339.54 291.68 L339.71 292.05 L339.87 292.51 L340.04 293.03 L340.21 293.62 L340.37 294.27 L340.54 294.97 L340.71 295.71 L340.87 296.49 L341.04 297.29 L341.20 298.12 L341.37 298.95 L341.54 299.78 L341.70 300.60 L341.87 301.41 L342.03 302.19 L342.20 302.93 L342.37 303.63 L342.53 304.28 L342.70 304.87 L342.87 305.39 L343.03 305.84 L343.20 306.22 L343.36 306.52 L343.53 306.74 L343.70 306.87 L343.86 306.91 L344.03 306.87 L344.20 306.75 L344.37 306.56 L344.54 306.29 L344.71 305.96 L344.88 305.55 L345.05 305.08 L345.22 304.55 L345.39 303.97 L345.56 303.35 L345.73 302.68 L345.90 301.99 L346.07 301.27 L346.24 300.53 L346.40 299.79 L346.57 299.04 L346.74 298.31 L346.91 297.59 L347.08 296.89 L347.25 296.23 L347.42 295.60 L347.59 295.02 L347.76 294.49 L347.93 294.02 L348.10 293.62 L348.27 293.28 L348.44 293.01 L348.61 292.82 L348.78 292.70 L348.95 292.66 L349.11 292.70 L349.28 292.83 L349.45 293.03 L349.62 293.31 L349.78 293.66 L349.95 294.09 L350.12 294.58 L350.29 295.14 L350.45 295.75 L350.62 296.41 L350.79 297.12 L350.95 297.86 L351.12 298.63 L351.29 299.42 L351.46 300.22 L351.62 301.03 L351.79 301.83 L351.96 302.62 L352.12 303.39 L352.29 304.13 L352.46 304.84 L352.63 305.50 L352.79 306.11 L352.96 306.67 L353.13 307.16 L353.30 307.59 L353.46 307.94 L353.63 308.22 L353.80 308.42 L353.96 308.55 L354.13 308.59 L354.30 308.55 L354.47 308.42 L354.63 308.22 L354.80 307.94 L354.97 307.59 L355.14 307.17 L355.30 306.68 L355.47 306.14 L355.64 305.55 L355.81 304.91 L355.97 304.24 L356.14 303.54 L356.31 302.82 L356.47 302.09 L356.64 301.36 L356.81 300.65 L356.98 299.95 L357.14 299.27 L357.31 298.64 L357.48 298.04 L357.65 297.50 L357.81 297.01 L357.98 296.59 L358.15 296.24 L358.32 295.96 L358.48 295.76 L358.65 295.64 L358.82 295.60 M359.22 249.51 L359.39 249.58 L359.55 249.79 L359.72 250.13 L359.89 250.60 L360.06 251.20 L360.23 251.90 L360.40 252.70 L360.57 253.58 L360.74 254.52 L360.91 255.51 L361.08 256.53 L361.24 257.56 L361.41 258.58 L361.58 259.57 L361.75 260.52 L361.92 261.40 L362.09 262.20 L362.26 262.90 L362.43 263.49 L362.60 263.97 L362.77 264.31 L362.94 264.52 L363.10 264.59 L363.27 264.55 L363.44 264.43 L363.61 264.23 L363.78 263.95 L363.95 263.61 L364.12 263.21 L364.29 262.76 L364.46 262.27 L364.63 261.76 L364.80 261.24 L364.97 260.71 L365.14 260.20 L365.31 259.72 L365.48 259.27 L365.65 258.87 L365.82 258.53 L365.99 258.25 L366.16 258.05 L366.32 257.93 L366.49 257.89 L366.66 257.92 L366.83 258.03 L367.00 258.21 L367.17 258.47 L367.34 258.79 L367.51 259.17 L367.68 259.62 L367.85 260.13 L368.02 260.69 L368.20 261.30 L368.37 261.95 L368.54 262.65 L368.71 263.37 L368.88 264.13 L369.05 264.90 L369.22 265.68 L369.39 266.48 L369.56 267.27 L369.73 268.05 L369.90 268.83 L370.07 269.58 L370.24 270.31 L370.41 271.00 L370.58 271.65 L370.75 272.26 L370.92 272.82 L371.09 273.33 L371.26 273.78 L371.43 274.17 L371.60 274.49 L371.77 274.74 L371.94 274.92 L372.11 275.03 L372.28 275.07 L372.45 275.04 L372.62 274.96 L372.79 274.83 L372.96 274.64 L373.13 274.41 L373.30 274.13 L373.47 273.82 L373.64 273.46 L373.81 273.08 L373.98 272.66 L374.15 272.23 L374.32 271.78 L374.49 271.32 L374.65 270.85 L374.82 270.39 L374.99 269.94 L375.16 269.51 L375.33 269.10 L375.50 268.71 L375.67 268.35 L375.84 268.04 L376.01 267.76 L376.18 267.53 L376.35 267.35 L376.52 267.21 L376.69 267.13 L376.86 267.11 L377.03 267.18 L377.20 267.40 L377.37 267.76 L377.54 268.26 L377.71 268.89 L377.88 269.63 L378.05 270.48 L378.22 271.40 L378.38 272.40 L378.55 273.45 L378.72 274.52 L378.89 275.61 L379.06 276.69 L379.23 277.73 L379.40 278.73 L379.57 279.66 L379.74 280.50 L379.91 281.24 L380.08 281.87 L380.24 282.37 L380.41 282.73 L380.58 282.95 L380.75 283.03 L380.92 283.01 L381.08 282.97 L381.25 282.91 L381.42 282.82 L381.58 282.70 L381.75 282.56 L381.91 282.40 L382.08 282.22 L382.25 282.01 L382.41 281.80 L382.58 281.56 L382.75 281.31 L382.91 281.05 L383.08 280.79 L383.24 280.51 L383.41 280.23 L383.58 279.95 L383.74 279.68 L383.91 279.40 L384.07 279.13 L384.24 278.88 L384.41 278.63 L384.57 278.39 L384.74 278.17 L384.91 277.97 L385.07 277.79 L385.24 277.63 L385.40 277.49 L385.57 277.37 L385.74 277.28 L385.90 277.21 L386.07 277.17 L386.23 277.16 L386.40 277.20 L386.57 277.33 L386.74 277.54 L386.90 277.83 L387.07 278.19 L387.24 278.64 L387.40 279.15 L387.57 279.73 L387.74 280.37 L387.91 281.07 L388.07 281.82 L388.24 282.62 L388.41 283.45 L388.57 284.31 L388.74 285.20 L388.91 286.10 L389.08 287.01 L389.24 287.92 L389.41 288.82 L389.58 289.70 L389.74 290.56 L389.91 291.40 L390.08 292.19 L390.25 292.94 L390.41 293.64 L390.58 294.28 L390.75 294.87 L390.91 295.38 L391.08 295.82 L391.25 296.19 L391.42 296.48 L391.58 296.69 L391.75 296.81 L391.92 296.85" class="fit"/>
<rect x="31.3" y="185.5" width="376.5" height="125.8" class="frame"/>
<text class="yt" transform="translate(27.6 269.2) rotate(-90) scale(0.84 1)">0.1</text>
<text class="yt" transform="translate(27.6 227.3) rotate(-90) scale(0.84 1)">0.2</text>
<text class="lab" x="33.3" y="212.3">Red</text>
<text class="xt" x="66.1" y="320.6">1985</text>
<text class="xt" x="115.9" y="320.6">1990</text>
<text class="xt" x="165.8" y="320.6">1995</text>
<text class="xt" x="215.7" y="320.6">2000</text>
<text class="xt" x="265.5" y="320.6">2005</text>
<text class="xt" x="315.4" y="320.6">2010</text>
<text class="xt" x="365.2" y="320.6">2015</text>
<text class="ylab" transform="translate(12.9 173.0) rotate(-90)">Surface reflectance</text>
<text class="it" x="491.8" y="42.8">2010-Sep-05</text>
<text class="it" x="492.2" y="184.0">2016-Sep-21</text>
<defs><clipPath id="c1"><rect x="421.5" y="46.0" width="124.0" height="124.6"/></clipPath>
<filter id="b1s" x="-5%" y="-5%" width="110%" height="110%"><feGaussianBlur stdDeviation="0.45"/></filter>
<filter id="b1" x="-5%" y="-5%" width="110%" height="110%" color-interpolation-filters="sRGB"><feGaussianBlur in="SourceGraphic" stdDeviation="1.0" result="bl"/><feTurbulence type="fractalNoise" baseFrequency="0.33" numOctaves="3" seed="7" result="t"/><feColorMatrix in="t" type="matrix" values="1 0 0 0 0  1 0 0 0 0  1 0 0 0 0  0 0 0 0 1" result="ta"/><feComposite in="bl" in2="ta" operator="arithmetic" k1="0.8" k2="0.62" k3="0" k4="0" result="m"/><feComposite in="m" in2="SourceAlpha" operator="in"/></filter>
</defs>
<g clip-path="url(#c1)">
<rect x="421.5" y="46.0" width="124.0" height="124.6" fill="#070a1c"/>
<g filter="url(#b1)">
<polygon fill="#0b3028" points="421.0,58.0 440.0,60.0 452.0,56.0 474.0,55.0 478.0,95.0 472.0,110.0 468.0,140.0 470.0,171.0 421.0,171.0"/>
<polygon fill="#08241d" points="421.0,100.0 445.0,102.0 458.0,108.0 462.0,150.0 466.0,171.0 421.0,171.0"/>
<polygon fill="#060c1e" points="421.0,108.0 436.0,108.0 437.0,128.0 421.0,130.0"/>
<polygon fill="#070b20" points="421.0,46.0 546.0,46.0 546.0,50.0 516.0,52.0 505.0,55.0 474.0,55.0 452.0,56.0 440.0,60.0 421.0,57.0"/>
<polygon fill="#08102a" points="439.0,47.0 452.0,47.0 452.0,58.0 440.0,60.0"/>
<polygon fill="#33bf93" points="424.0,51.5 428.5,51.0 431.0,54.0 430.0,58.0 431.5,62.0 429.0,63.5 425.0,63.0 423.5,58.0"/>
<polygon fill="#33bf93" points="430.5,63.5 436.0,62.5 439.5,64.5 439.5,70.0 435.0,71.5 431.0,69.5"/>
<polygon fill="#2cab86" points="423.0,65.0 428.0,64.5 429.5,70.0 427.0,73.0 423.0,73.0"/>
<polygon fill="#07102a" points="428.0,58.0 431.0,58.5 431.0,63.0 428.5,63.0"/>
<polygon fill="#07102a" points="429.0,65.0 431.0,64.5 432.0,70.0 430.0,71.0"/>
<polygon fill="#6a7682" points="474.0,55.5 486.0,56.8 494.6,59.2 500.8,61.0 503.0,65.0 501.0,76.0 497.0,88.0 494.0,98.0 480.0,100.0 475.0,96.0 474.0,75.0"/>
<polygon fill="#78828e" points="479.0,60.0 492.0,61.0 498.0,66.0 496.0,80.0 490.0,92.0 481.0,92.0 478.0,75.0"/>
<polygon fill="#4a6e6a" points="475.0,95.0 494.5,95.0 491.5,123.0 484.5,146.0 477.0,161.0 473.0,168.0 469.0,166.0 463.0,150.0 460.5,130.0 461.0,112.0 466.0,103.0"/>
<polygon fill="#587a7a" points="471.0,104.0 488.0,102.0 486.0,125.0 479.0,145.0 471.0,150.0 466.0,128.0"/>
<polygon fill="#52766c" points="518.0,47.5 546.0,47.5 546.0,67.0 535.0,66.0 522.0,64.0 510.0,63.0 505.0,60.0 506.0,55.0 516.0,53.0"/>
<polygon fill="#587a70" points="506.0,55.0 514.0,54.0 519.0,57.0 518.0,62.0 508.0,62.0"/>
<polygon fill="#4a6a66" points="534.5,84.0 546.0,82.0 546.0,108.0 540.0,108.0 535.0,100.0"/>
<polygon fill="#1d433f" points="538.0,108.0 546.0,108.0 546.0,171.0 530.0,171.0 533.0,135.0 536.0,118.0"/>
<polygon fill="#0b2628" points="478.0,168.0 492.0,158.0 506.0,148.0 520.0,132.0 536.0,110.0 538.0,118.0 534.0,135.0 530.0,160.0 526.0,171.0 480.0,171.0"/>
<polygon fill="#0b3222" points="475.0,160.0 490.0,152.0 510.0,150.0 534.0,148.0 534.0,171.0 472.0,171.0"/>
<polygon fill="#6a4a68" points="427.0,129.0 440.0,127.0 455.0,127.0 461.5,129.0 461.0,140.0 455.0,143.0 440.0,143.5 428.0,140.0"/>
<polygon fill="#a87aa0" points="428.0,129.5 436.0,128.5 437.0,137.0 432.0,139.0 428.0,136.0"/>
<polygon fill="#d8a8cc" points="448.0,127.3 456.0,127.0 461.5,128.5 460.0,132.0 450.0,132.0"/>
<polygon fill="#5a9a80" points="447.0,148.0 456.0,147.0 461.0,151.0 458.0,156.0 450.0,156.0"/>
</g>
<g filter="url(#b1s)">
<polygon fill="#e8e0a0" points="437.0,111.5 447.5,111.3 448.5,125.5 436.0,126.0 434.0,121.0 434.5,117.0 436.0,116.5"/>
<polygon fill="#fffff6" points="438.0,112.3 447.0,112.3 447.6,124.8 437.0,125.2 435.2,120.5 437.0,118.0"/>
<polygon fill="#d8e8e0" points="449.0,131.0 456.0,130.5 459.0,133.0 458.5,140.0 452.0,140.5 449.5,137.0"/>
<polygon fill="#a0d8c0" points="451.5,133.5 454.5,133.0 455.0,136.0 452.0,136.5"/>
<polygon fill="#d8a8cc" points="439.0,129.0 441.5,128.5 442.5,140.0 440.0,141.0"/>
<polygon fill="#c898c0" points="443.5,129.5 446.0,129.0 446.5,139.0 444.0,139.5"/>
<polygon fill="#a8d0c0" points="440.0,126.2 446.0,126.2 446.0,128.2 440.0,128.2"/>
</g>
<g filter="url(#b1s)" fill="none" stroke-linecap="round" stroke-linejoin="round">
<polyline stroke="#9ab0a0" stroke-width="0.7" points="520.0,50.0 524.0,56.0 528.0,62.0"/>
<polyline stroke="#a0b8a8" stroke-width="0.7" points="530.0,49.0 533.0,55.0 537.0,62.0"/>
<polyline stroke="#90a898" stroke-width="0.6" points="540.0,48.0 541.0,55.0 544.0,63.0"/>
<polyline stroke="#a0b0a8" stroke-width="0.6" points="508.0,56.0 512.0,58.0 516.0,61.0"/>
<polyline stroke="#8a9aa0" stroke-width="0.6" points="485.0,62.0 488.0,70.0 490.0,80.0"/>
<polyline stroke="#8a98a8" stroke-width="0.6" points="479.0,66.0 481.0,76.0 482.0,88.0"/>
<polyline stroke="#9aa0b0" stroke-width="0.6" points="492.0,66.0 495.0,72.0 496.0,78.0"/>
<polyline stroke="#b0b080" stroke-width="0.9" points="446.0,57.0 460.0,56.5 474.0,55.5 486.0,56.8 494.6,59.0 501.0,61.5 503.0,65.0"/>
<polyline stroke="#a8a880" stroke-width="0.8" points="503.0,65.0 507.0,70.0 516.0,73.6 524.5,76.2 534.8,82.2 538.3,85.7 546.0,87.5"/>
<polyline stroke="#7a8a70" stroke-width="0.6" points="439.0,72.0 437.0,80.0 436.4,89.0 435.0,97.0"/>
<polyline stroke="#9a8a70" stroke-width="0.8" points="421.0,134.5 427.0,139.0 433.0,142.0 438.0,145.0"/>
<polyline stroke="#a09470" stroke-width="0.9" points="473.0,168.0 476.0,164.8 484.0,161.0 491.0,157.3 506.0,149.8"/>
<polyline stroke="#8a9a90" stroke-width="0.6" points="503.0,66.0 501.0,76.0 497.0,88.0 494.5,96.0 491.5,123.0 484.5,146.0 477.0,161.0"/>
<polyline stroke="#7a8a80" stroke-width="0.5" points="482.0,108.0 476.0,118.0 470.0,128.0 466.0,140.0"/>
<polyline stroke="#7a7a90" stroke-width="0.6" points="491.0,100.0 498.4,101.2"/>
<polyline stroke="#6a6a88" stroke-width="0.6" points="508.4,100.0 513.0,102.0"/>
<polyline stroke="#5a6a78" stroke-width="0.6" points="488.5,133.6 500.0,128.0 515.0,120.0 528.0,110.0 538.3,105.0"/>
<polyline stroke="#6a6a7a" stroke-width="0.5" points="507.0,128.7 517.0,130.0"/>
<polyline stroke="#7a6a6a" stroke-width="0.6" points="518.4,136.0 528.4,139.9"/>
<polyline stroke="#8a9a98" stroke-width="0.7" points="538.3,108.7 536.0,120.0 533.0,135.0 531.0,150.0 529.6,164.8"/>
<polyline stroke="#7a8a88" stroke-width="0.6" points="505.0,55.0 510.0,60.0 520.0,62.5"/>
<polyline stroke="#7a8a78" stroke-width="0.5" points="462.0,112.0 466.0,125.0 470.0,140.0 473.0,155.0"/>
<polyline stroke="#5a7a68" stroke-width="0.5" points="444.0,60.0 447.0,67.5 449.0,75.0"/>
</g>
<circle cx="496.0" cy="100.0" r="0.9" fill="#dde"/>
<circle cx="496.0" cy="134.9" r="1.0" fill="#eef"/>
<circle cx="529.6" cy="167.3" r="0.9" fill="#dfe"/>
<circle cx="530.9" cy="152.3" r="0.7" fill="#cdd"/>
<circle cx="508.0" cy="144.0" r="0.6" fill="#aab"/>
<circle cx="426.5" cy="162.0" r="1.4" fill="#dde8d0"/>
<circle cx="531.0" cy="52.0" r="0.8" fill="#3c8"/>
<circle cx="514.0" cy="47.5" r="0.8" fill="#3c8"/>
<rect x="481.6" y="100.8" width="3.4" height="2.4" fill="none" stroke="#fff" stroke-width="0.9"/>
</g>
<defs><clipPath id="c2"><rect x="421.2" y="186.9" width="124.0" height="125.2"/></clipPath>
<filter id="b2" x="-5%" y="-5%" width="110%" height="110%" color-interpolation-filters="sRGB"><feGaussianBlur in="SourceGraphic" stdDeviation="0.9" result="bl"/><feTurbulence type="fractalNoise" baseFrequency="0.33" numOctaves="3" seed="11" result="t"/><feColorMatrix in="t" type="matrix" values="1 0 0 0 0  1 0 0 0 0  1 0 0 0 0  0 0 0 0 1" result="ta"/><feComposite in="bl" in2="ta" operator="arithmetic" k1="0.9" k2="0.55" k3="0" k4="0" result="m"/><feComposite in="m" in2="SourceAlpha" operator="in"/></filter>
<filter id="b2s" x="-5%" y="-5%" width="110%" height="110%"><feGaussianBlur stdDeviation="0.4"/></filter>
</defs>
<g clip-path="url(#c2)">
<rect x="421.2" y="186.9" width="124.0" height="125.2" fill="#05070d"/>
<g filter="url(#b2)">
<polygon fill="#081a10" points="421.0,187.0 441.0,187.0 444.0,198.0 446.0,215.0 442.0,230.0 436.0,236.0 421.0,236.0"/>
<polygon fill="#0b2216" points="421.0,236.0 448.0,234.0 458.0,240.0 460.0,249.0 421.0,249.0"/>
<polygon fill="#2c9a55" points="422.5,193.0 427.0,191.5 430.5,195.0 430.0,200.5 425.0,201.5 422.5,198.0"/>
<polygon fill="#30a05a" points="429.0,204.0 435.0,203.0 439.5,206.0 439.0,212.0 433.0,214.0 429.0,209.0"/>
<polygon fill="#1d6a3a" points="422.0,212.0 426.0,211.0 427.0,218.0 423.0,220.0"/>
<polygon fill="#1c4a2c" points="432.0,231.0 446.0,229.0 448.0,236.0 448.0,250.0 432.0,250.0"/>
<polygon fill="#27462f" points="443.5,198.5 456.0,196.7 476.0,196.5 475.2,205.0 475.2,240.0 474.0,252.0 448.0,252.0 445.0,240.0 446.8,228.5 448.5,216.0 445.0,207.0"/>
<polygon fill="#3a5c44" points="452.0,200.0 470.0,199.0 472.0,215.0 470.0,232.0 460.0,236.0 454.0,222.0"/>
<polygon fill="#34543c" points="447.0,200.0 458.0,199.0 456.0,208.0 449.0,210.0"/>
<polygon fill="#244e34" points="446.0,249.0 460.0,249.0 461.0,272.0 461.7,295.5 446.0,295.5 445.0,282.0"/>
<polygon fill="#2f5f40" points="449.0,262.0 458.0,260.0 459.0,276.0 450.0,278.0"/>
<polygon fill="#3a6450" points="447.0,274.0 459.0,273.0 460.0,292.0 448.0,293.0"/>
<polygon fill="#22503a" points="421.0,287.0 436.0,286.0 444.0,288.0 444.0,312.0 421.0,312.0"/>
<polygon fill="#3a7058" points="433.0,292.0 440.0,290.0 443.0,298.0 437.0,302.0"/>
<polygon fill="#3a6a50" points="423.0,296.0 429.0,294.0 431.0,302.0 425.0,306.0"/>
<polygon fill="#1c4030" points="444.0,306.0 462.0,305.0 481.0,306.0 483.0,312.0 444.0,312.0"/>
<polygon fill="#2a5a40" points="476.0,306.8 488.4,299.6 500.7,292.4 506.9,286.2 511.0,278.0 517.2,277.0 523.4,280.0 527.5,286.2 529.5,294.4 529.0,312.0 476.0,312.0"/>
<polygon fill="#36684a" points="490.0,304.0 502.0,296.0 510.0,290.0 522.0,292.0 524.0,306.0 500.0,310.0"/>
<polygon fill="#1f4e3a" points="530.0,286.0 538.0,283.0 546.0,280.0 546.0,312.0 529.0,312.0"/>
<circle cx="514.8" cy="190.2" r="1.6" fill="#4a9aa8"/>
</g>
<polygon fill="#f4f6ee" filter="url(#b2s)" points="433.5,255.0 442.0,254.0 445.9,255.5 445.9,265.0 440.0,265.8 433.0,265.5 432.8,259.0"/>
<rect x="433.3" y="265.5" width="2.2" height="1.8" fill="#c8d0c0"/>
<g filter="url(#b2s)" fill="none" stroke-linecap="round" stroke-linejoin="round">
<polyline stroke="#5f8f6a" stroke-width="0.7" opacity="0.8" points="452.0,201.0 453.0,210.0 454.0,222.0"/>
<polyline stroke="#5f8f6a" stroke-width="0.6" opacity="0.8" points="458.0,200.0 459.0,212.0 461.0,226.0 462.0,238.0"/>
<polyline stroke="#6a9a74" stroke-width="0.6" opacity="0.8" points="465.0,199.0 466.0,210.0 468.0,222.0"/>
<polyline stroke="#5a8a66" stroke-width="0.6" opacity="0.8" points="470.0,202.0 471.0,215.0 470.0,230.0 471.0,244.0"/>
<polyline stroke="#7aa884" stroke-width="0.8" opacity="0.8" points="462.0,238.0 466.0,244.0 471.0,249.0"/>
<polyline stroke="#6a8a6a" stroke-width="0.5" opacity="0.8" points="449.0,222.0 452.0,232.0 456.0,242.0"/>
<polyline stroke="#b0b8c8" stroke-width="0.6" opacity="0.8" points="436.5,214.0 436.8,224.0 436.2,233.5"/>
<polyline stroke="#80c890" stroke-width="0.7" opacity="0.8" points="424.0,194.0 427.0,196.0 428.0,199.0"/>
<polyline stroke="#6a7a88" stroke-width="0.6" points="439.4,270.0 439.6,280.0 439.2,288.0"/>
<polyline stroke="#5a6656" stroke-width="0.6" points="483.0,268.0 479.0,280.0 476.0,290.0"/>
<polyline stroke="#a8a880" stroke-width="1.0" points="444.5,198.0 456.0,196.6 470.0,196.2 476.0,196.7 488.9,198.9 497.5,201.0 504.0,197.3 510.5,196.0 518.0,198.9 524.5,202.0 533.0,202.5 538.5,195.6 542.8,191.3 546.0,190.0"/>
<polyline stroke="#8a8a70" stroke-width="0.9" points="501.9,202.0 503.0,208.5 508.3,211.8 514.8,214.0 521.3,217.2 529.9,221.5 538.5,226.9 546.0,230.0"/>
<polyline stroke="#7a7a66" stroke-width="0.8" points="503.0,208.5 497.5,215.0 494.3,221.5 492.2,230.0 489.0,240.9 487.3,250.0 486.3,267.6 483.2,278.0 478.0,288.0"/>
<polyline stroke="#7a7a66" stroke-width="0.8" points="489.0,240.9 501.9,240.9 512.6,242.6"/>
<polyline stroke="#6a6a5e" stroke-width="0.7" points="534.2,229.0 534.2,238.7 536.3,249.5 536.0,256.0"/>
<polyline stroke="#6a6a5e" stroke-width="0.6" points="521.3,189.2 522.3,195.6"/>
<polyline stroke="#6a6a5e" stroke-width="0.6" points="538.5,195.6 540.6,189.0 542.0,187.0"/>
<polyline stroke="#70705e" stroke-width="0.7" points="486.3,269.7 498.6,266.6 512.0,263.5 525.4,257.4"/>
<polyline stroke="#70705e" stroke-width="0.7" points="488.4,275.9 496.6,285.0"/>
<polyline stroke="#6a7262" stroke-width="0.7" points="544.0,245.0 539.8,269.7 533.6,286.2 530.6,298.5"/>
<polyline stroke="#6a7a62" stroke-width="0.8" points="421.0,274.0 430.0,278.0 435.0,281.0 447.0,282.0"/>
<polyline stroke="#4a5a4a" stroke-width="0.6" points="476.0,197.0 475.5,215.0 475.2,240.0 474.5,252.0"/>
<polyline stroke="#9aa880" stroke-width="0.8" points="476.0,306.8 488.4,299.6 500.7,292.4 506.9,286.2 511.0,278.0 517.2,277.0 523.4,280.0 527.5,286.2 529.5,294.4"/>
<polyline stroke="#5a6a50" stroke-width="0.6" points="441.0,187.0 442.0,195.0"/>
</g>
<rect x="479.2" y="242.0" width="3.0" height="2.6" fill="none" stroke="#f0f0b0" stroke-width="0.9"/>
</g>
</svg>
</body></html>
